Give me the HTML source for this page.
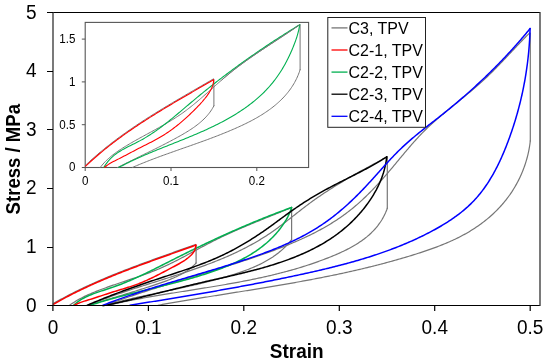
<!DOCTYPE html>
<html><head><meta charset="utf-8"><title>Stress-strain</title>
<style>html,body{margin:0;padding:0;background:#fff;}body{width:550px;height:364px;overflow:hidden;}svg{display:block;}</style>
</head><body>
<svg width="550" height="364" viewBox="0 0 550 364">
<rect width="550" height="364" fill="#fff"/>
<g id="main-curves"><path d="M69.59,305.25 L70.82,304.37 L72.07,303.52 L73.33,302.69 L74.60,301.89 L75.89,301.10 L77.18,300.34 L78.48,299.60 L79.79,298.88 L81.12,298.17 L82.45,297.49 L83.78,296.82 L85.13,296.16 L86.49,295.53 L87.85,294.90 L89.21,294.29 L90.59,293.69 L91.97,293.10 L93.35,292.53 L94.74,291.96 L96.14,291.40 L97.54,290.85 L98.94,290.31 L100.34,289.78 L101.75,289.25 L103.16,288.72 L104.58,288.21 L106.00,287.69 L107.42,287.19 L108.84,286.68 L110.26,286.18 L111.69,285.69 L113.11,285.19 L114.54,284.71 L115.97,284.22 L117.41,283.73 L118.84,283.25 L120.27,282.77 L121.71,282.29 L123.14,281.81 L124.58,281.33 L126.01,280.85 L127.45,280.37 L128.88,279.89 L130.32,279.41 L131.75,278.93 L133.19,278.44 L134.62,277.95 L136.05,277.46 L137.48,276.97 L138.91,276.47 L140.34,275.97 L141.76,275.47 L143.19,274.96 L144.61,274.44 L146.03,273.92 L147.45,273.40 L148.86,272.87 L150.27,272.33 L151.68,271.79 L153.09,271.24 L154.49,270.68 L155.89,270.11 L157.28,269.54 L158.68,268.95 L160.06,268.36 L161.45,267.76 L162.82,267.15 L164.20,266.53 L165.57,265.90 L166.94,265.26 L168.30,264.62 L169.66,263.97 L171.02,263.31 L172.37,262.64 L173.73,261.97 L175.08,261.29 L176.42,260.61 L177.77,259.92 L179.11,259.23 L180.45,258.53 L181.79,257.83 L183.12,257.13 L184.46,256.42 L185.79,255.71 L187.13,254.99 L188.46,254.28 L189.79,253.56 L191.12,252.84 L192.45,252.12 L193.78,251.40 L195.11,250.68 L196.44,249.96 L197.77,249.24 L199.10,248.52 L200.44,247.80 L201.77,247.09 L203.10,246.37 L204.44,245.66 L205.77,244.95 L207.11,244.25 L208.45,243.54 L209.79,242.85 L211.13,242.15 L212.48,241.46 L213.82,240.78 L215.17,240.10 L216.52,239.43 L217.88,238.76 L219.24,238.10 L220.60,237.44 L221.96,236.79 L223.32,236.14 L224.69,235.50 L226.06,234.86 L227.43,234.23 L228.80,233.60 L230.17,232.97 L231.55,232.35 L232.93,231.74 L234.31,231.12 L235.69,230.52 L237.07,229.91 L238.46,229.31 L239.84,228.71 L241.23,228.11 L242.62,227.52 L244.01,226.93 L245.40,226.34 L246.79,225.76 L248.19,225.18 L249.58,224.59 L250.98,224.02 L252.37,223.44 L253.77,222.87 L255.17,222.29 L256.56,221.72 L257.96,221.15 L259.36,220.58 L260.76,220.01 L262.16,219.45 L263.56,218.88 L264.97,218.31 L266.37,217.75 L267.77,217.18 L269.17,216.62 L270.57,216.05 L271.97,215.49 L273.37,214.93 L274.78,214.36 L276.18,213.79 L277.58,213.23 L278.98,212.66 L280.38,212.09 L281.78,211.52 L283.17,210.95 L284.57,210.38 L285.97,209.81 L287.37,209.23 L288.76,208.65 L290.16,208.07 L291.55,207.49" stroke="#767676" stroke-width="1.2" fill="none" stroke-linejoin="round" stroke-linecap="round"/><path d="M196.09,263.01 L195.05,264.11 L193.97,265.16 L192.87,266.18 L191.73,267.16 L190.57,268.11 L189.38,269.03 L188.17,269.91 L186.94,270.76 L185.68,271.59 L184.40,272.39 L183.11,273.16 L181.79,273.91 L180.46,274.63 L179.11,275.33 L177.75,276.01 L176.37,276.67 L174.98,277.31 L173.58,277.94 L172.17,278.54 L170.75,279.13 L169.32,279.71 L167.88,280.27 L166.43,280.82 L164.98,281.36 L163.52,281.89 L162.05,282.41 L160.59,282.92 L159.12,283.42 L157.65,283.92 L156.19,284.41 L154.72,284.90 L153.25,285.39 L151.78,285.87 L150.32,286.35 L148.85,286.83 L147.39,287.30 L145.92,287.77 L144.46,288.24 L142.99,288.71 L141.53,289.17 L140.07,289.63 L138.60,290.09 L137.14,290.54 L135.68,290.99 L134.22,291.45 L132.76,291.90 L131.29,292.34 L129.83,292.79 L128.37,293.24 L126.91,293.68 L125.45,294.12 L123.99,294.57 L122.53,295.01 L121.06,295.45 L119.60,295.89 L118.14,296.33 L116.68,296.77 L115.22,297.21 L113.76,297.65 L112.29,298.09 L110.83,298.53 L109.37,298.97 L107.90,299.41 L106.44,299.85 L104.98,300.29 L103.51,300.73 L102.05,301.18 L100.58,301.62 L99.12,302.07 L97.65,302.52 L96.18,302.97 L94.71,303.42 L93.25,303.88 L91.78,304.33 L90.31,304.79 L88.84,305.25" stroke="#767676" stroke-width="1.2" fill="none" stroke-linejoin="round" stroke-linecap="round"/><path d="M196.09,245.14 L196.09,263.01" stroke="#767676" stroke-width="1.2" fill="none" stroke-linejoin="round" stroke-linecap="round"/><path d="M53.15,303.66 L54.47,302.89 L55.81,302.13 L57.14,301.38 L58.48,300.63 L59.81,299.89 L61.16,299.15 L62.50,298.42 L63.85,297.69 L65.20,296.97 L66.55,296.25 L67.90,295.54 L69.26,294.84 L70.62,294.14 L71.98,293.44 L73.34,292.75 L74.71,292.07 L76.08,291.39 L77.45,290.71 L78.82,290.04 L80.20,289.37 L81.57,288.71 L82.95,288.05 L84.33,287.40 L85.72,286.75 L87.10,286.11 L88.49,285.47 L89.88,284.83 L91.27,284.20 L92.66,283.57 L94.06,282.95 L95.45,282.33 L96.85,281.71 L98.25,281.10 L99.65,280.49 L101.05,279.89 L102.46,279.29 L103.86,278.69 L105.27,278.09 L106.68,277.50 L108.09,276.91 L109.50,276.33 L110.92,275.75 L112.33,275.17 L113.75,274.59 L115.16,274.02 L116.58,273.45 L118.00,272.88 L119.42,272.32 L120.85,271.76 L122.27,271.20 L123.69,270.64 L125.12,270.09 L126.54,269.54 L127.97,268.99 L129.40,268.44 L130.83,267.89 L132.26,267.35 L133.69,266.81 L135.12,266.27 L136.56,265.73 L137.99,265.20 L139.42,264.66 L140.86,264.13 L142.29,263.60 L143.73,263.07 L145.17,262.54 L146.60,262.02 L148.04,261.49 L149.48,260.97 L150.92,260.44 L152.36,259.92 L153.80,259.40 L155.24,258.88 L156.68,258.36 L158.12,257.85 L159.56,257.33 L161.00,256.81 L162.44,256.30 L163.88,255.78 L165.32,255.27 L166.76,254.75 L168.21,254.24 L169.65,253.73 L171.09,253.21 L172.53,252.70 L173.97,252.18 L175.41,251.67 L176.85,251.16 L178.29,250.64 L179.73,250.13 L181.18,249.62 L182.62,249.10 L184.05,248.59 L185.49,248.07 L186.93,247.56 L188.37,247.04 L189.81,246.52 L191.25,246.00 L192.68,245.48 L194.12,244.96 L195.56,244.44" stroke="#767676" stroke-width="1.2" fill="none" stroke-linejoin="round" stroke-linecap="round"/><path d="M291.60,207.40 L291.60,239.60" stroke="#767676" stroke-width="1.2" fill="none" stroke-linejoin="round" stroke-linecap="round"/><path d="M291.61,239.60 L290.65,240.82 L289.68,242.00 L288.68,243.16 L287.67,244.29 L286.63,245.40 L285.58,246.49 L284.50,247.55 L283.41,248.58 L282.30,249.59 L281.18,250.58 L280.04,251.55 L278.88,252.50 L277.70,253.42 L276.51,254.32 L275.30,255.20 L274.08,256.06 L272.85,256.91 L271.60,257.73 L270.34,258.53 L269.06,259.32 L267.77,260.08 L266.47,260.83 L265.16,261.57 L263.84,262.28 L262.50,262.98 L261.16,263.67 L259.80,264.34 L258.44,264.99 L257.07,265.63 L255.68,266.25 L254.29,266.87 L252.89,267.47 L251.49,268.05 L250.08,268.63 L248.66,269.19 L247.23,269.74 L245.80,270.28 L244.36,270.81 L242.92,271.33 L241.48,271.84 L240.03,272.34 L238.57,272.84 L237.12,273.32 L235.66,273.80 L234.20,274.27 L232.73,274.73 L231.27,275.19 L229.80,275.64 L228.33,276.09 L226.87,276.53 L225.40,276.96 L223.93,277.39 L222.45,277.81 L220.98,278.23 L219.51,278.64 L218.03,279.05 L216.56,279.45 L215.08,279.85 L213.60,280.24 L212.13,280.63 L210.65,281.01 L209.17,281.39 L207.69,281.77 L206.20,282.14 L204.72,282.51 L203.24,282.87 L201.76,283.23 L200.27,283.59 L198.79,283.94 L197.30,284.30 L195.82,284.64 L194.33,284.99 L192.84,285.33 L191.35,285.67 L189.87,286.01 L188.38,286.34 L186.89,286.67 L185.40,287.00 L183.91,287.33 L182.42,287.66 L180.93,287.98 L179.44,288.30 L177.95,288.62 L176.46,288.94 L174.97,289.26 L173.48,289.58 L171.99,289.90 L170.50,290.21 L169.01,290.53 L167.52,290.84 L166.03,291.16 L164.54,291.47 L163.05,291.78 L161.56,292.10 L160.07,292.41 L158.58,292.72 L157.09,293.04 L155.60,293.35 L154.11,293.67 L152.62,293.98 L151.13,294.30 L149.64,294.62 L148.16,294.94 L146.67,295.26 L145.18,295.58 L143.69,295.90 L142.21,296.22 L140.72,296.55 L139.24,296.88 L137.75,297.21 L136.27,297.54 L134.79,297.88 L133.30,298.21 L131.82,298.55 L130.34,298.89 L128.86,299.24 L127.38,299.59 L125.90,299.94 L124.42,300.29 L122.95,300.65 L121.47,301.01 L120.00,301.38 L118.52,301.75 L117.05,302.12 L115.58,302.49 L114.11,302.87 L112.64,303.26 L111.17,303.65 L109.70,304.04 L108.23,304.44 L106.77,304.84 L105.30,305.25" stroke="#767676" stroke-width="1.2" fill="none" stroke-linejoin="round" stroke-linecap="round"/><path d="M88.50,305.25 L89.87,304.67 L91.25,304.10 L92.64,303.53 L94.02,302.96 L95.41,302.41 L96.80,301.85 L98.19,301.30 L99.58,300.76 L100.98,300.22 L102.38,299.68 L103.79,299.15 L105.19,298.62 L106.60,298.10 L108.01,297.58 L109.42,297.07 L110.83,296.55 L112.25,296.04 L113.67,295.54 L115.09,295.04 L116.51,294.54 L117.93,294.04 L119.36,293.55 L120.79,293.06 L122.21,292.57 L123.65,292.09 L125.08,291.61 L126.51,291.13 L127.95,290.65 L129.38,290.17 L130.82,289.70 L132.26,289.23 L133.70,288.76 L135.14,288.29 L136.58,287.83 L138.02,287.36 L139.47,286.90 L140.91,286.44 L142.35,285.97 L143.80,285.51 L145.25,285.06 L146.69,284.60 L148.14,284.14 L149.59,283.68 L151.04,283.23 L152.49,282.77 L153.94,282.31 L155.39,281.86 L156.83,281.40 L158.28,280.95 L159.73,280.49 L161.18,280.03 L162.63,279.58 L164.08,279.12 L165.53,278.66 L166.98,278.20 L168.43,277.74 L169.88,277.28 L171.32,276.82 L172.77,276.35 L174.22,275.89 L175.66,275.42 L177.11,274.95 L178.55,274.48 L179.99,274.01 L181.44,273.54 L182.88,273.06 L184.32,272.59 L185.76,272.11 L187.19,271.62 L188.63,271.14 L190.07,270.65 L191.50,270.16 L192.93,269.67 L194.37,269.17 L195.80,268.67 L197.22,268.17 L198.65,267.66 L200.08,267.16 L201.50,266.64 L202.92,266.13 L204.34,265.61 L205.76,265.08 L207.17,264.55 L208.58,264.02 L210.00,263.49 L211.40,262.95 L212.81,262.40 L214.22,261.85 L215.62,261.30 L217.02,260.74 L218.41,260.17 L219.81,259.60 L221.20,259.03 L222.59,258.45 L223.97,257.87 L225.36,257.28 L226.74,256.68 L228.12,256.08 L229.49,255.47 L230.86,254.86 L232.23,254.24 L233.60,253.61 L234.96,252.98 L236.32,252.34 L237.67,251.70 L239.02,251.05 L240.37,250.39 L241.71,249.73 L243.06,249.05 L244.39,248.38 L245.73,247.69 L247.06,247.00 L248.38,246.30 L249.70,245.59 L251.02,244.87 L252.33,244.15 L253.64,243.42 L254.95,242.68 L256.25,241.93 L257.55,241.17 L258.84,240.41 L260.13,239.64 L261.41,238.86 L262.69,238.07 L263.96,237.27 L265.23,236.46 L266.50,235.64 L267.76,234.82 L269.01,233.98 L270.26,233.14 L271.51,232.29 L272.75,231.43 L273.99,230.55 L275.22,229.68 L276.45,228.79 L277.67,227.90 L278.89,227.00 L280.11,226.09 L281.32,225.18 L282.54,224.27 L283.74,223.35 L284.95,222.42 L286.16,221.49 L287.36,220.56 L288.56,219.63 L289.76,218.69 L290.96,217.75 L292.16,216.81 L293.36,215.87 L294.56,214.93 L295.76,213.99 L296.96,213.05 L298.16,212.11 L299.36,211.18 L300.56,210.24 L301.76,209.31 L302.96,208.38 L304.17,207.45 L305.38,206.53 L306.59,205.61 L307.80,204.70 L309.01,203.79 L310.23,202.89 L311.45,201.99 L312.67,201.10 L313.90,200.21 L315.13,199.34 L316.37,198.47 L317.60,197.60 L318.84,196.74 L320.09,195.89 L321.33,195.04 L322.58,194.19 L323.83,193.36 L325.09,192.52 L326.35,191.70 L327.61,190.88 L328.87,190.06 L330.14,189.25 L331.41,188.44 L332.68,187.63 L333.95,186.84 L335.23,186.04 L336.51,185.25 L337.79,184.47 L339.07,183.68 L340.36,182.90 L341.65,182.13 L342.94,181.36 L344.23,180.59 L345.53,179.83 L346.83,179.07 L348.13,178.31 L349.43,177.56 L350.74,176.80 L352.04,176.06 L353.35,175.31 L354.66,174.57 L355.97,173.83 L357.29,173.09 L358.60,172.35 L359.92,171.62 L361.24,170.88 L362.56,170.15 L363.89,169.43 L365.21,168.70 L366.54,167.97 L367.87,167.25 L369.20,166.53 L370.53,165.81 L371.86,165.09 L373.19,164.37 L374.53,163.65 L375.87,162.93 L377.20,162.21 L378.54,161.50 L379.88,160.78 L381.22,160.06 L382.57,159.35 L383.91,158.63 L385.25,157.92 L386.60,157.20" stroke="#767676" stroke-width="1.2" fill="none" stroke-linejoin="round" stroke-linecap="round"/><path d="M387.30,156.80 L387.30,208.20" stroke="#767676" stroke-width="1.2" fill="none" stroke-linejoin="round" stroke-linecap="round"/><path d="M387.30,208.20 L386.76,209.71 L386.17,211.18 L385.56,212.63 L384.92,214.05 L384.24,215.44 L383.54,216.80 L382.81,218.14 L382.05,219.45 L381.26,220.73 L380.44,221.99 L379.60,223.22 L378.73,224.42 L377.84,225.60 L376.92,226.76 L375.98,227.90 L375.01,229.01 L374.02,230.09 L373.01,231.16 L371.97,232.20 L370.92,233.22 L369.84,234.22 L368.75,235.20 L367.63,236.16 L366.50,237.11 L365.34,238.03 L364.17,238.93 L362.98,239.81 L361.78,240.68 L360.56,241.53 L359.33,242.36 L358.08,243.17 L356.81,243.97 L355.54,244.76 L354.25,245.52 L352.94,246.28 L351.63,247.02 L350.31,247.74 L348.97,248.45 L347.63,249.15 L346.27,249.84 L344.91,250.51 L343.54,251.18 L342.16,251.83 L340.77,252.47 L339.38,253.10 L337.99,253.72 L336.58,254.33 L335.18,254.93 L333.77,255.52 L332.35,256.11 L330.94,256.69 L329.52,257.26 L328.10,257.82 L326.68,258.38 L325.25,258.93 L323.83,259.47 L322.40,260.01 L320.97,260.54 L319.55,261.06 L318.11,261.58 L316.68,262.09 L315.25,262.60 L313.81,263.09 L312.38,263.59 L310.94,264.07 L309.50,264.56 L308.06,265.03 L306.62,265.50 L305.17,265.96 L303.73,266.42 L302.28,266.87 L300.83,267.32 L299.38,267.76 L297.93,268.20 L296.48,268.63 L295.03,269.05 L293.58,269.47 L292.12,269.89 L290.66,270.30 L289.21,270.70 L287.75,271.10 L286.29,271.50 L284.83,271.89 L283.37,272.28 L281.90,272.66 L280.44,273.03 L278.97,273.41 L277.51,273.78 L276.04,274.14 L274.57,274.50 L273.10,274.86 L271.63,275.21 L270.16,275.55 L268.69,275.90 L267.22,276.24 L265.74,276.57 L264.27,276.91 L262.79,277.23 L261.32,277.56 L259.84,277.88 L258.36,278.20 L256.88,278.51 L255.40,278.82 L253.92,279.13 L252.44,279.44 L250.96,279.74 L249.48,280.04 L248.00,280.33 L246.51,280.63 L245.03,280.92 L243.54,281.21 L242.06,281.49 L240.57,281.77 L239.08,282.05 L237.60,282.33 L236.11,282.61 L234.62,282.88 L233.13,283.15 L231.64,283.42 L230.15,283.68 L228.66,283.95 L227.17,284.21 L225.68,284.47 L224.19,284.73 L222.70,284.99 L221.20,285.24 L219.71,285.50 L218.22,285.75 L216.72,286.00 L215.23,286.25 L213.74,286.50 L212.24,286.74 L210.75,286.99 L209.25,287.23 L207.76,287.48 L206.26,287.72 L204.77,287.96 L203.27,288.20 L201.78,288.44 L200.28,288.68 L198.78,288.92 L197.29,289.16 L195.79,289.40 L194.30,289.64 L192.80,289.87 L191.30,290.11 L189.81,290.35 L188.31,290.59 L186.81,290.82 L185.32,291.06 L183.82,291.30 L182.33,291.53 L180.83,291.77 L179.33,292.01 L177.84,292.25 L176.34,292.49 L174.85,292.73 L173.35,292.97 L171.86,293.21 L170.36,293.45 L168.87,293.69 L167.37,293.94 L165.88,294.18 L164.39,294.43 L162.89,294.67 L161.40,294.92 L159.91,295.17 L158.41,295.42 L156.92,295.67 L155.43,295.93 L153.94,296.18 L152.45,296.44 L150.96,296.70 L149.47,296.96 L147.98,297.22 L146.49,297.48 L145.00,297.75 L143.51,298.02 L142.02,298.29 L140.54,298.56 L139.05,298.83 L137.56,299.11 L136.08,299.39 L134.60,299.67 L133.11,299.95 L131.63,300.24 L130.15,300.53 L128.66,300.82 L127.18,301.12 L125.70,301.42 L124.22,301.72 L122.74,302.02 L121.27,302.33 L119.79,302.64 L118.31,302.95 L116.84,303.27 L115.36,303.59 L113.89,303.92 L112.41,304.24 L110.94,304.58 L109.47,304.91 L108.00,305.25" stroke="#767676" stroke-width="1.2" fill="none" stroke-linejoin="round" stroke-linecap="round"/><path d="M103.00,306.25 L104.41,305.71 L105.83,305.18 L107.25,304.65 L108.66,304.12 L110.08,303.59 L111.50,303.07 L112.92,302.55 L114.34,302.04 L115.75,301.53 L117.17,301.02 L118.60,300.51 L120.02,300.01 L121.44,299.51 L122.86,299.01 L124.28,298.51 L125.70,298.02 L127.13,297.53 L128.55,297.04 L129.98,296.55 L131.40,296.07 L132.83,295.59 L134.25,295.11 L135.68,294.63 L137.10,294.16 L138.53,293.68 L139.96,293.21 L141.38,292.74 L142.81,292.27 L144.24,291.81 L145.67,291.35 L147.10,290.88 L148.52,290.42 L149.95,289.96 L151.38,289.51 L152.81,289.05 L154.24,288.60 L155.67,288.15 L157.10,287.69 L158.54,287.24 L159.97,286.79 L161.40,286.35 L162.83,285.90 L164.26,285.46 L165.69,285.01 L167.13,284.57 L168.56,284.12 L169.99,283.68 L171.42,283.24 L172.86,282.80 L174.29,282.36 L175.72,281.92 L177.16,281.48 L178.59,281.05 L180.03,280.61 L181.46,280.17 L182.89,279.74 L184.33,279.30 L185.76,278.86 L187.20,278.43 L188.63,277.99 L190.07,277.56 L191.50,277.12 L192.94,276.69 L194.37,276.25 L195.81,275.82 L197.24,275.38 L198.68,274.94 L200.11,274.51 L201.55,274.07 L202.98,273.63 L204.42,273.20 L205.85,272.76 L207.29,272.32 L208.72,271.88 L210.16,271.44 L211.59,271.00 L213.03,270.56 L214.46,270.12 L215.90,269.67 L217.33,269.23 L218.77,268.78 L220.20,268.34 L221.64,267.89 L223.07,267.44 L224.51,266.99 L225.94,266.54 L227.38,266.09 L228.81,265.64 L230.24,265.18 L231.68,264.73 L233.11,264.27 L234.54,263.81 L235.98,263.35 L237.41,262.89 L238.84,262.42 L240.28,261.96 L241.71,261.49 L243.14,261.02 L244.57,260.55 L246.01,260.07 L247.44,259.60 L248.87,259.12 L250.30,258.64 L251.73,258.15 L253.16,257.67 L254.59,257.18 L256.02,256.69 L257.45,256.20 L258.88,255.71 L260.31,255.21 L261.74,254.71 L263.17,254.21 L264.59,253.70 L266.02,253.19 L267.45,252.68 L268.87,252.17 L270.30,251.65 L271.72,251.13 L273.14,250.60 L274.57,250.07 L275.99,249.54 L277.40,249.01 L278.82,248.47 L280.23,247.92 L281.65,247.37 L283.06,246.82 L284.47,246.26 L285.88,245.70 L287.28,245.14 L288.68,244.57 L290.08,243.99 L291.48,243.41 L292.88,242.82 L294.27,242.23 L295.66,241.64 L297.05,241.03 L298.43,240.43 L299.81,239.81 L301.19,239.20 L302.56,238.57 L303.93,237.94 L305.30,237.30 L306.66,236.66 L308.02,236.01 L309.38,235.36 L310.73,234.69 L312.08,234.02 L313.42,233.35 L314.76,232.67 L316.09,231.98 L317.42,231.28 L318.75,230.58 L320.07,229.87 L321.39,229.15 L322.70,228.42 L324.00,227.69 L325.31,226.95 L326.60,226.20 L327.89,225.44 L329.18,224.67 L330.46,223.90 L331.73,223.12 L333.00,222.33 L334.26,221.53 L335.52,220.72 L336.77,219.91 L338.01,219.08 L339.25,218.25 L340.49,217.40 L341.71,216.55 L342.93,215.69 L344.14,214.82 L345.35,213.93 L346.55,213.04 L347.74,212.14 L348.92,211.23 L350.10,210.31 L351.27,209.38 L352.43,208.44 L353.59,207.49 L354.74,206.53 L355.88,205.56 L357.02,204.59 L358.15,203.60 L359.27,202.61 L360.39,201.60 L361.50,200.59 L362.60,199.57 L363.70,198.54 L364.79,197.51 L365.87,196.47 L366.95,195.42 L368.03,194.36 L369.10,193.30 L370.16,192.23 L371.22,191.16 L372.27,190.07 L373.32,188.99 L374.36,187.89 L375.40,186.80 L376.43,185.69 L377.46,184.59 L378.48,183.47 L379.50,182.36 L380.51,181.23 L381.52,180.11 L382.53,178.98 L383.53,177.84 L384.53,176.71 L385.52,175.57 L386.51,174.42 L387.50,173.28 L388.48,172.13 L389.46,170.98 L390.43,169.82 L391.41,168.67 L392.38,167.51 L393.34,166.36 L394.31,165.20 L395.28,164.04 L396.24,162.88 L397.20,161.72 L398.16,160.56 L399.13,159.40 L400.09,158.24 L401.05,157.08 L402.01,155.92 L402.97,154.77 L403.94,153.61 L404.90,152.46 L405.87,151.31 L406.84,150.16 L407.82,149.02 L408.79,147.88 L409.77,146.74 L410.75,145.60 L411.74,144.47 L412.72,143.35 L413.72,142.22 L414.72,141.11 L415.72,139.99 L416.73,138.89 L417.74,137.78 L418.76,136.69 L419.79,135.60 L420.82,134.51 L421.86,133.44 L422.90,132.37 L423.96,131.30 L425.02,130.25 L426.09,129.20 L427.16,128.16 L428.25,127.12 L429.34,126.10 L430.43,125.07 L431.53,124.06 L432.64,123.05 L433.76,122.04 L434.88,121.04 L436.00,120.05 L437.13,119.06 L438.27,118.08 L439.40,117.09 L440.55,116.12 L441.69,115.14 L442.84,114.17 L444.00,113.21 L445.16,112.24 L446.32,111.28 L447.48,110.32 L448.64,109.36 L449.81,108.41 L450.98,107.45 L452.15,106.50 L453.32,105.55 L454.49,104.60 L455.66,103.65 L456.84,102.70 L458.01,101.75 L459.18,100.80 L460.36,99.85 L461.53,98.90 L462.70,97.95 L463.87,96.99 L465.04,96.04 L466.21,95.08 L467.37,94.12 L468.54,93.16 L469.70,92.20 L470.85,91.23 L472.01,90.26 L473.16,89.29 L474.31,88.31 L475.45,87.33 L476.60,86.35 L477.73,85.36 L478.86,84.37 L479.99,83.37 L481.11,82.36 L482.23,81.36 L483.34,80.34 L484.44,79.32 L485.54,78.29 L486.64,77.26 L487.73,76.22 L488.81,75.18 L489.89,74.13 L490.96,73.08 L492.03,72.03 L493.10,70.97 L494.16,69.90 L495.22,68.83 L496.27,67.76 L497.32,66.69 L498.37,65.61 L499.41,64.53 L500.46,63.44 L501.50,62.36 L502.54,61.27 L503.57,60.18 L504.61,59.09 L505.64,57.99 L506.68,56.90 L507.71,55.80 L508.74,54.71 L509.77,53.61 L510.80,52.52 L511.83,51.42 L512.86,50.32 L513.89,49.23 L514.93,48.13 L515.96,47.04 L517.00,45.94 L518.03,44.85 L519.07,43.76 L520.11,42.67 L521.15,41.59 L522.20,40.50 L523.25,39.42 L524.30,38.34 L525.35,37.27 L526.41,36.19 L527.47,35.13 L528.53,34.06 L529.60,33.00" stroke="#767676" stroke-width="1.2" fill="none" stroke-linejoin="round" stroke-linecap="round"/><path d="M530.30,33.00 L530.30,140.90" stroke="#767676" stroke-width="1.2" fill="none" stroke-linejoin="round" stroke-linecap="round"/><path d="M530.30,140.90 L530.12,142.43 L529.91,143.96 L529.69,145.49 L529.45,147.01 L529.18,148.53 L528.90,150.04 L528.60,151.54 L528.27,153.04 L527.93,154.53 L527.57,156.02 L527.19,157.50 L526.79,158.97 L526.37,160.43 L525.93,161.89 L525.47,163.34 L525.00,164.78 L524.50,166.22 L523.99,167.65 L523.46,169.07 L522.91,170.48 L522.35,171.88 L521.76,173.28 L521.16,174.67 L520.54,176.04 L519.91,177.41 L519.26,178.77 L518.59,180.12 L517.90,181.46 L517.20,182.79 L516.48,184.11 L515.74,185.42 L514.99,186.72 L514.22,188.01 L513.43,189.29 L512.63,190.56 L511.82,191.82 L510.98,193.06 L510.14,194.30 L509.27,195.52 L508.40,196.73 L507.50,197.93 L506.60,199.12 L505.67,200.30 L504.74,201.46 L503.79,202.61 L502.82,203.75 L501.84,204.88 L500.85,205.99 L499.84,207.09 L498.83,208.18 L497.79,209.26 L496.75,210.33 L495.69,211.38 L494.62,212.42 L493.54,213.45 L492.44,214.46 L491.34,215.46 L490.22,216.46 L489.09,217.43 L487.95,218.40 L486.80,219.35 L485.64,220.29 L484.47,221.22 L483.29,222.14 L482.09,223.04 L480.89,223.93 L479.68,224.81 L478.46,225.68 L477.23,226.53 L475.99,227.37 L474.74,228.20 L473.49,229.02 L472.22,229.82 L470.95,230.61 L469.67,231.39 L468.38,232.15 L467.08,232.91 L465.78,233.65 L464.47,234.38 L463.15,235.09 L461.83,235.80 L460.50,236.50 L459.16,237.18 L457.82,237.85 L456.47,238.52 L455.11,239.17 L453.75,239.81 L452.38,240.44 L451.01,241.07 L449.63,241.68 L448.25,242.29 L446.86,242.88 L445.47,243.47 L444.07,244.05 L442.67,244.62 L441.27,245.18 L439.86,245.74 L438.44,246.28 L437.03,246.82 L435.61,247.36 L434.18,247.88 L432.76,248.40 L431.33,248.92 L429.90,249.42 L428.46,249.93 L427.03,250.42 L425.59,250.91 L424.15,251.40 L422.70,251.88 L421.26,252.35 L419.81,252.82 L418.37,253.29 L416.92,253.75 L415.47,254.21 L414.02,254.66 L412.57,255.12 L411.12,255.56 L409.66,256.01 L408.21,256.45 L406.76,256.89 L405.30,257.32 L403.85,257.75 L402.39,258.18 L400.94,258.61 L399.48,259.03 L398.03,259.45 L396.57,259.86 L395.11,260.27 L393.65,260.68 L392.20,261.09 L390.74,261.49 L389.28,261.89 L387.82,262.29 L386.36,262.69 L384.89,263.08 L383.43,263.47 L381.97,263.85 L380.51,264.23 L379.04,264.62 L377.58,264.99 L376.12,265.37 L374.65,265.74 L373.19,266.11 L371.72,266.47 L370.25,266.84 L368.79,267.20 L367.32,267.56 L365.85,267.92 L364.38,268.27 L362.92,268.62 L361.45,268.97 L359.98,269.32 L358.51,269.66 L357.04,270.00 L355.57,270.34 L354.10,270.68 L352.62,271.01 L351.15,271.34 L349.68,271.67 L348.21,272.00 L346.73,272.33 L345.26,272.65 L343.79,272.97 L342.31,273.29 L340.84,273.61 L339.36,273.92 L337.89,274.23 L336.41,274.55 L334.93,274.85 L333.46,275.16 L331.98,275.47 L330.50,275.77 L329.03,276.07 L327.55,276.37 L326.07,276.67 L324.59,276.96 L323.11,277.26 L321.63,277.55 L320.15,277.84 L318.67,278.13 L317.19,278.42 L315.71,278.70 L314.23,278.99 L312.75,279.27 L311.27,279.55 L309.79,279.83 L308.31,280.11 L306.82,280.38 L305.34,280.66 L303.86,280.93 L302.38,281.20 L300.89,281.47 L299.41,281.74 L297.93,282.01 L296.44,282.28 L294.96,282.54 L293.47,282.81 L291.99,283.07 L290.50,283.33 L289.02,283.59 L287.53,283.85 L286.05,284.11 L284.56,284.37 L283.08,284.63 L281.59,284.88 L280.10,285.14 L278.62,285.39 L277.13,285.64 L275.64,285.89 L274.16,286.14 L272.67,286.39 L271.18,286.64 L269.69,286.89 L268.21,287.14 L266.72,287.39 L265.23,287.63 L263.74,287.88 L262.25,288.12 L260.77,288.37 L259.28,288.61 L257.79,288.85 L256.30,289.10 L254.81,289.34 L253.32,289.58 L251.83,289.82 L250.34,290.06 L248.85,290.30 L247.36,290.54 L245.88,290.78 L244.39,291.02 L242.90,291.26 L241.41,291.50 L239.92,291.74 L238.43,291.97 L236.94,292.21 L235.45,292.45 L233.96,292.69 L232.47,292.92 L230.98,293.16 L229.49,293.40 L228.00,293.64 L226.51,293.87 L225.02,294.11 L223.52,294.35 L222.03,294.59 L220.54,294.82 L219.05,295.06 L217.56,295.30 L216.07,295.54 L214.58,295.78 L213.09,296.01 L211.60,296.25 L210.11,296.49 L208.62,296.73 L207.13,296.97 L205.64,297.21 L204.15,297.45 L202.66,297.69 L201.17,297.93 L199.68,298.17 L198.19,298.42 L196.70,298.66 L195.21,298.90 L193.72,299.15 L192.23,299.39 L190.74,299.64 L189.25,299.88 L187.76,300.13 L186.27,300.38 L184.78,300.62 L183.30,300.87 L181.81,301.12 L180.32,301.37 L178.83,301.63 L177.34,301.88 L175.85,302.13 L174.36,302.38 L172.87,302.64 L171.39,302.90 L169.90,303.15 L168.41,303.41 L166.92,303.67 L165.44,303.93 L163.95,304.19 L162.46,304.46 L160.97,304.72 L159.49,304.98 L158.00,305.25" stroke="#767676" stroke-width="1.2" fill="none" stroke-linejoin="round" stroke-linecap="round"/><path d="M73.59,305.25 L74.75,304.21 L75.93,303.23 L77.13,302.29 L78.36,301.39 L79.61,300.54 L80.88,299.73 L82.17,298.96 L83.47,298.23 L84.80,297.53 L86.14,296.86 L87.49,296.21 L88.86,295.60 L90.24,295.01 L91.64,294.44 L93.04,293.89 L94.45,293.36 L95.87,292.84 L97.30,292.34 L98.73,291.85 L100.17,291.36 L101.61,290.89 L103.06,290.42 L104.50,289.95 L105.95,289.48 L107.40,289.02 L108.84,288.54 L110.29,288.07 L111.73,287.58 L113.16,287.09 L114.60,286.58 L116.02,286.07 L117.45,285.55 L118.87,285.02 L120.28,284.48 L121.70,283.93 L123.10,283.37 L124.51,282.81 L125.91,282.23 L127.31,281.65 L128.70,281.07 L130.09,280.47 L131.48,279.87 L132.87,279.27 L134.25,278.65 L135.63,278.03 L137.01,277.41 L138.39,276.78 L139.76,276.14 L141.13,275.50 L142.50,274.86 L143.87,274.21 L145.23,273.55 L146.60,272.90 L147.96,272.23 L149.32,271.57 L150.68,270.90 L152.04,270.23 L153.40,269.56 L154.75,268.88 L156.11,268.20 L157.46,267.52 L158.81,266.84 L160.17,266.16 L161.52,265.48 L162.87,264.79 L164.22,264.10 L165.57,263.42 L166.92,262.73 L168.27,262.05 L169.63,261.36 L170.98,260.67 L172.33,259.99 L173.68,259.31 L175.04,258.62 L176.39,257.94 L177.75,257.26 L179.10,256.59 L180.46,255.91 L181.81,255.23 L183.17,254.56 L184.53,253.88 L185.89,253.21 L187.24,252.54 L188.60,251.87 L189.96,251.20 L191.32,250.54 L192.69,249.87 L194.05,249.21 L195.41,248.55 L196.77,247.89 L198.14,247.23 L199.50,246.57 L200.87,245.91 L202.24,245.26 L203.60,244.60 L204.97,243.95 L206.34,243.30 L207.71,242.66 L209.08,242.01 L210.45,241.36 L211.82,240.72 L213.19,240.08 L214.57,239.44 L215.94,238.80 L217.32,238.17 L218.69,237.53 L220.07,236.90 L221.44,236.27 L222.82,235.64 L224.20,235.01 L225.58,234.39 L226.96,233.77 L228.34,233.14 L229.73,232.52 L231.11,231.91 L232.49,231.29 L233.88,230.68 L235.27,230.07 L236.65,229.46 L238.04,228.85 L239.43,228.25 L240.82,227.64 L242.21,227.04 L243.60,226.44 L245.00,225.85 L246.39,225.25 L247.78,224.66 L249.18,224.07 L250.58,223.48 L251.97,222.90 L253.37,222.31 L254.77,221.73 L256.17,221.15 L257.57,220.58 L258.98,220.00 L260.38,219.43 L261.79,218.86 L263.19,218.30 L264.60,217.73 L266.01,217.17 L267.42,216.61 L268.83,216.05 L270.24,215.50 L271.65,214.95 L273.07,214.40 L274.48,213.85 L275.90,213.31 L277.31,212.76 L278.73,212.22 L280.15,211.69 L281.57,211.15 L282.99,210.62 L284.42,210.09 L285.84,209.57 L287.27,209.05 L288.69,208.53 L290.12,208.01 L291.55,207.49" stroke="#00b050" stroke-width="1.5" fill="none" stroke-linejoin="round" stroke-linecap="round"/><path d="M291.55,207.49 L291.12,208.90 L290.65,210.28 L290.13,211.66 L289.58,213.02 L288.98,214.36 L288.35,215.70 L287.69,217.02 L286.99,218.32 L286.26,219.62 L285.50,220.90 L284.71,222.17 L283.90,223.43 L283.06,224.68 L282.20,225.91 L281.32,227.13 L280.41,228.34 L279.48,229.54 L278.53,230.72 L277.55,231.88 L276.56,233.04 L275.55,234.17 L274.51,235.30 L273.46,236.40 L272.40,237.50 L271.31,238.57 L270.21,239.63 L269.09,240.68 L267.96,241.70 L266.82,242.72 L265.66,243.71 L264.49,244.69 L263.31,245.65 L262.11,246.59 L260.91,247.51 L259.69,248.42 L258.47,249.31 L257.24,250.18 L255.99,251.03 L254.74,251.87 L253.48,252.69 L252.20,253.50 L250.92,254.29 L249.63,255.07 L248.34,255.83 L247.03,256.58 L245.72,257.31 L244.40,258.03 L243.07,258.74 L241.74,259.43 L240.40,260.11 L239.05,260.78 L237.70,261.44 L236.34,262.08 L234.97,262.72 L233.60,263.34 L232.22,263.95 L230.84,264.55 L229.46,265.14 L228.06,265.73 L226.67,266.30 L225.27,266.86 L223.87,267.42 L222.46,267.96 L221.05,268.50 L219.64,269.03 L218.22,269.55 L216.80,270.07 L215.38,270.57 L213.96,271.08 L212.53,271.57 L211.10,272.06 L209.67,272.55 L208.24,273.02 L206.81,273.50 L205.38,273.96 L203.94,274.42 L202.50,274.88 L201.06,275.33 L199.62,275.78 L198.18,276.22 L196.73,276.66 L195.29,277.09 L193.84,277.52 L192.39,277.94 L190.94,278.36 L189.49,278.78 L188.04,279.19 L186.59,279.60 L185.13,280.00 L183.68,280.40 L182.22,280.80 L180.76,281.19 L179.31,281.59 L177.85,281.98 L176.39,282.36 L174.93,282.74 L173.46,283.13 L172.00,283.50 L170.54,283.88 L169.07,284.26 L167.61,284.63 L166.14,285.00 L164.68,285.37 L163.21,285.74 L161.75,286.10 L160.28,286.47 L158.81,286.83 L157.35,287.19 L155.88,287.56 L154.41,287.92 L152.94,288.28 L151.47,288.64 L150.00,289.00 L148.54,289.36 L147.07,289.72 L145.60,290.08 L144.13,290.44 L142.66,290.80 L141.20,291.16 L139.73,291.53 L138.26,291.89 L136.79,292.25 L135.33,292.62 L133.86,292.99 L132.40,293.35 L130.93,293.72 L129.47,294.09 L128.00,294.47 L126.54,294.84 L125.08,295.22 L123.61,295.60 L122.15,295.98 L120.69,296.36 L119.23,296.75 L117.77,297.14 L116.32,297.53 L114.86,297.93 L113.40,298.33 L111.95,298.73 L110.49,299.13 L109.04,299.54 L107.59,299.96 L106.14,300.37 L104.69,300.79 L103.24,301.22 L101.80,301.65 L100.35,302.08 L98.91,302.52 L97.47,302.96 L96.03,303.41 L94.59,303.86 L93.15,304.32 L91.72,304.78 L90.28,305.25" stroke="#00b050" stroke-width="1.5" fill="none" stroke-linejoin="round" stroke-linecap="round"/><path d="M53.35,304.36 L54.67,303.59 L56.01,302.83 L57.34,302.08 L58.68,301.33 L60.01,300.59 L61.36,299.85 L62.70,299.12 L64.05,298.39 L65.40,297.67 L66.75,296.95 L68.10,296.24 L69.46,295.54 L70.82,294.84 L72.18,294.14 L73.54,293.45 L74.91,292.77 L76.28,292.09 L77.65,291.41 L79.02,290.74 L80.40,290.07 L81.77,289.41 L83.15,288.75 L84.53,288.10 L85.92,287.45 L87.30,286.81 L88.69,286.17 L90.08,285.53 L91.47,284.90 L92.86,284.27 L94.26,283.65 L95.65,283.03 L97.05,282.41 L98.45,281.80 L99.85,281.19 L101.25,280.59 L102.66,279.99 L104.06,279.39 L105.47,278.79 L106.88,278.20 L108.29,277.61 L109.70,277.03 L111.12,276.45 L112.53,275.87 L113.95,275.29 L115.36,274.72 L116.78,274.15 L118.20,273.58 L119.62,273.02 L121.05,272.46 L122.47,271.90 L123.89,271.34 L125.32,270.79 L126.74,270.24 L128.17,269.69 L129.60,269.14 L131.03,268.59 L132.46,268.05 L133.89,267.51 L135.32,266.97 L136.76,266.43 L138.19,265.90 L139.62,265.36 L141.06,264.83 L142.49,264.30 L143.93,263.77 L145.37,263.24 L146.80,262.72 L148.24,262.19 L149.68,261.67 L151.12,261.14 L152.56,260.62 L154.00,260.10 L155.44,259.58 L156.88,259.06 L158.32,258.55 L159.76,258.03 L161.20,257.51 L162.64,257.00 L164.08,256.48 L165.52,255.97 L166.96,255.45 L168.41,254.94 L169.85,254.43 L171.29,253.91 L172.73,253.40 L174.17,252.88 L175.61,252.37 L177.05,251.86 L178.49,251.34 L179.93,250.83 L181.38,250.32 L182.82,249.80 L184.25,249.29 L185.69,248.77 L187.13,248.26 L188.57,247.74 L190.01,247.22 L191.45,246.70 L192.88,246.18 L194.32,245.66 L195.76,245.14" stroke="#ff0000" stroke-width="1.5" fill="none" stroke-linejoin="round" stroke-linecap="round"/><path d="M195.80,244.90 L195.69,246.52 L195.40,248.04 L194.93,249.48 L194.32,250.82 L193.58,252.10 L192.72,253.30 L191.76,254.44 L190.72,255.52 L189.62,256.54 L188.46,257.53 L187.27,258.47 L186.05,259.38 L184.80,260.26 L183.51,261.11 L182.21,261.93 L180.88,262.73 L179.54,263.50 L178.18,264.26 L176.82,265.01 L175.44,265.75 L174.07,266.48 L172.69,267.20 L171.32,267.93 L169.95,268.65 L168.58,269.37 L167.22,270.09 L165.85,270.81 L164.49,271.53 L163.14,272.24 L161.78,272.95 L160.42,273.65 L159.06,274.35 L157.70,275.04 L156.35,275.73 L154.98,276.41 L153.62,277.08 L152.26,277.75 L150.89,278.40 L149.52,279.05 L148.14,279.69 L146.76,280.31 L145.37,280.93 L143.98,281.54 L142.58,282.13 L141.18,282.71 L139.77,283.28 L138.35,283.83 L136.92,284.37 L135.49,284.89 L134.05,285.40 L132.60,285.90 L131.14,286.38 L129.68,286.86 L128.21,287.33 L126.74,287.79 L125.26,288.24 L123.79,288.69 L122.31,289.13 L120.83,289.58 L119.35,290.02 L117.87,290.46 L116.40,290.91 L114.93,291.36 L113.46,291.81 L111.99,292.28 L110.53,292.74 L109.07,293.21 L107.62,293.69 L106.17,294.17 L104.71,294.64 L103.26,295.13 L101.82,295.61 L100.37,296.09 L98.92,296.57 L97.47,297.04 L96.02,297.52 L94.57,297.99 L93.12,298.45 L91.66,298.91 L90.20,299.37 L88.74,299.82 L87.28,300.26 L85.81,300.69 L84.35,301.14 L82.89,301.60 L81.44,302.09 L80.01,302.62 L78.59,303.19 L77.20,303.81 L75.83,304.49 L74.48,305.25" stroke="#ff0000" stroke-width="1.5" fill="none" stroke-linejoin="round" stroke-linecap="round"/><path d="M87.30,305.25 L88.68,304.65 L90.07,304.06 L91.46,303.47 L92.84,302.88 L94.23,302.30 L95.62,301.72 L97.01,301.15 L98.41,300.57 L99.80,300.01 L101.19,299.44 L102.59,298.88 L103.98,298.32 L105.38,297.76 L106.78,297.21 L108.18,296.66 L109.58,296.11 L110.98,295.57 L112.39,295.03 L113.79,294.49 L115.20,293.95 L116.60,293.42 L118.01,292.89 L119.42,292.36 L120.83,291.83 L122.24,291.31 L123.65,290.79 L125.06,290.27 L126.47,289.76 L127.89,289.25 L129.30,288.73 L130.72,288.23 L132.13,287.72 L133.55,287.21 L134.97,286.71 L136.39,286.21 L137.81,285.71 L139.24,285.22 L140.66,284.72 L142.08,284.23 L143.51,283.74 L144.93,283.25 L146.36,282.76 L147.79,282.28 L149.22,281.79 L150.64,281.31 L152.08,280.83 L153.51,280.35 L154.94,279.87 L156.37,279.39 L157.81,278.92 L159.24,278.44 L160.68,277.97 L162.11,277.50 L163.55,277.03 L164.99,276.56 L166.43,276.09 L167.87,275.62 L169.30,275.15 L170.74,274.67 L172.18,274.20 L173.62,273.73 L175.06,273.26 L176.50,272.78 L177.94,272.31 L179.37,271.83 L180.81,271.35 L182.24,270.87 L183.68,270.39 L185.11,269.90 L186.54,269.41 L187.97,268.92 L189.40,268.43 L190.83,267.93 L192.26,267.43 L193.68,266.92 L195.10,266.41 L196.52,265.89 L197.94,265.38 L199.36,264.85 L200.77,264.32 L202.18,263.79 L203.59,263.25 L205.00,262.70 L206.40,262.15 L207.80,261.59 L209.19,261.03 L210.59,260.46 L211.98,259.88 L213.36,259.30 L214.74,258.71 L216.12,258.11 L217.50,257.50 L218.87,256.88 L220.24,256.26 L221.60,255.63 L222.96,254.99 L224.31,254.34 L225.66,253.69 L227.01,253.02 L228.35,252.35 L229.69,251.67 L231.02,250.98 L232.35,250.29 L233.67,249.58 L235.00,248.87 L236.31,248.15 L237.63,247.43 L238.94,246.70 L240.24,245.96 L241.55,245.21 L242.85,244.46 L244.14,243.70 L245.43,242.93 L246.72,242.15 L248.00,241.37 L249.28,240.59 L250.56,239.79 L251.83,238.99 L253.10,238.19 L254.37,237.37 L255.63,236.56 L256.89,235.73 L258.14,234.90 L259.39,234.06 L260.64,233.22 L261.89,232.37 L263.13,231.52 L264.36,230.66 L265.60,229.80 L266.83,228.93 L268.06,228.06 L269.28,227.18 L270.51,226.30 L271.73,225.41 L272.95,224.52 L274.17,223.63 L275.38,222.74 L276.60,221.85 L277.82,220.95 L279.03,220.06 L280.25,219.17 L281.46,218.27 L282.68,217.38 L283.89,216.49 L285.11,215.60 L286.33,214.71 L287.55,213.83 L288.78,212.95 L290.00,212.07 L291.23,211.19 L292.46,210.33 L293.69,209.46 L294.93,208.60 L296.17,207.75 L297.41,206.90 L298.66,206.06 L299.91,205.22 L301.16,204.39 L302.41,203.56 L303.67,202.74 L304.93,201.92 L306.20,201.11 L307.47,200.31 L308.74,199.51 L310.02,198.72 L311.30,197.93 L312.59,197.15 L313.87,196.38 L315.17,195.61 L316.46,194.85 L317.76,194.09 L319.07,193.34 L320.37,192.60 L321.69,191.87 L323.00,191.14 L324.32,190.41 L325.64,189.69 L326.97,188.98 L328.30,188.27 L329.63,187.56 L330.96,186.86 L332.30,186.16 L333.64,185.47 L334.98,184.78 L336.32,184.09 L337.66,183.40 L339.00,182.72 L340.35,182.03 L341.70,181.35 L343.04,180.67 L344.39,179.99 L345.74,179.31 L347.09,178.63 L348.44,177.95 L349.79,177.27 L351.13,176.59 L352.48,175.91 L353.83,175.23 L355.17,174.54 L356.52,173.86 L357.86,173.17 L359.20,172.48 L360.54,171.78 L361.88,171.09 L363.22,170.38 L364.55,169.68 L365.88,168.97 L367.21,168.25 L368.54,167.54 L369.86,166.81 L371.18,166.08 L372.50,165.35 L373.81,164.61 L375.12,163.86 L376.42,163.11 L377.72,162.34 L379.02,161.58 L380.31,160.80 L381.60,160.02 L382.88,159.23 L384.16,158.43 L385.43,157.62 L386.70,156.80" stroke="#000000" stroke-width="1.5" fill="none" stroke-linejoin="round" stroke-linecap="round"/><path d="M386.70,156.80 L386.54,158.30 L386.34,159.80 L386.12,161.29 L385.87,162.78 L385.60,164.25 L385.29,165.72 L384.96,167.19 L384.61,168.64 L384.23,170.09 L383.82,171.53 L383.39,172.97 L382.93,174.39 L382.45,175.81 L381.95,177.22 L381.42,178.62 L380.87,180.02 L380.30,181.40 L379.71,182.78 L379.09,184.15 L378.46,185.51 L377.80,186.86 L377.12,188.20 L376.43,189.54 L375.71,190.86 L374.98,192.18 L374.23,193.49 L373.46,194.78 L372.67,196.07 L371.87,197.35 L371.05,198.62 L370.22,199.88 L369.36,201.13 L368.50,202.37 L367.62,203.60 L366.72,204.82 L365.81,206.03 L364.89,207.23 L363.95,208.42 L363.00,209.60 L362.04,210.77 L361.06,211.93 L360.08,213.07 L359.08,214.21 L358.06,215.34 L357.04,216.45 L356.00,217.55 L354.95,218.64 L353.89,219.72 L352.82,220.79 L351.74,221.85 L350.64,222.90 L349.54,223.93 L348.42,224.95 L347.30,225.96 L346.16,226.96 L345.01,227.94 L343.86,228.92 L342.69,229.88 L341.52,230.83 L340.33,231.76 L339.14,232.68 L337.94,233.59 L336.73,234.49 L335.51,235.38 L334.28,236.25 L333.04,237.10 L331.80,237.95 L330.54,238.78 L329.28,239.60 L328.02,240.41 L326.74,241.21 L325.46,242.00 L324.17,242.77 L322.88,243.53 L321.58,244.28 L320.27,245.02 L318.96,245.75 L317.64,246.47 L316.32,247.18 L314.99,247.87 L313.65,248.56 L312.31,249.24 L310.97,249.90 L309.62,250.56 L308.27,251.21 L306.91,251.84 L305.55,252.47 L304.18,253.09 L302.81,253.70 L301.44,254.30 L300.06,254.89 L298.68,255.48 L297.30,256.05 L295.91,256.62 L294.52,257.18 L293.12,257.73 L291.73,258.27 L290.32,258.80 L288.92,259.33 L287.51,259.85 L286.10,260.36 L284.68,260.87 L283.27,261.37 L281.84,261.86 L280.42,262.34 L278.99,262.82 L277.57,263.29 L276.13,263.76 L274.70,264.22 L273.26,264.67 L271.82,265.12 L270.38,265.56 L268.94,266.00 L267.49,266.43 L266.04,266.85 L264.59,267.27 L263.14,267.69 L261.69,268.10 L260.23,268.51 L258.77,268.91 L257.31,269.30 L255.85,269.70 L254.39,270.09 L252.92,270.47 L251.46,270.85 L249.99,271.23 L248.52,271.60 L247.05,271.98 L245.58,272.34 L244.11,272.71 L242.63,273.07 L241.16,273.43 L239.69,273.78 L238.21,274.14 L236.73,274.49 L235.26,274.84 L233.78,275.19 L232.30,275.53 L230.82,275.88 L229.34,276.22 L227.86,276.56 L226.38,276.90 L224.91,277.24 L223.43,277.58 L221.95,277.91 L220.47,278.25 L218.99,278.58 L217.51,278.92 L216.03,279.25 L214.55,279.59 L213.07,279.92 L211.59,280.26 L210.12,280.59 L208.64,280.93 L207.16,281.27 L205.69,281.60 L204.21,281.94 L202.74,282.28 L201.27,282.62 L199.80,282.96 L198.33,283.30 L196.86,283.65 L195.39,284.00 L193.92,284.34 L192.46,284.69 L190.99,285.04 L189.53,285.39 L188.06,285.74 L186.60,286.10 L185.14,286.45 L183.68,286.81 L182.22,287.16 L180.76,287.52 L179.30,287.88 L177.84,288.23 L176.38,288.59 L174.92,288.95 L173.46,289.31 L172.01,289.67 L170.55,290.03 L169.09,290.39 L167.63,290.75 L166.18,291.11 L164.72,291.47 L163.26,291.83 L161.81,292.20 L160.35,292.56 L158.89,292.92 L157.44,293.28 L155.98,293.64 L154.52,294.00 L153.07,294.36 L151.61,294.71 L150.15,295.07 L148.69,295.43 L147.23,295.79 L145.77,296.14 L144.31,296.50 L142.85,296.85 L141.39,297.21 L139.93,297.56 L138.46,297.91 L137.00,298.26 L135.53,298.61 L134.07,298.96 L132.60,299.30 L131.14,299.65 L129.67,299.99 L128.20,300.34 L126.73,300.68 L125.26,301.02 L123.78,301.35 L122.31,301.69 L120.83,302.02 L119.36,302.36 L117.88,302.69 L116.40,303.01 L114.92,303.34 L113.44,303.66 L111.95,303.99 L110.47,304.31 L108.98,304.62 L107.49,304.94 L106.00,305.25" stroke="#000000" stroke-width="1.5" fill="none" stroke-linejoin="round" stroke-linecap="round"/><path d="M103.00,305.25 L104.41,304.70 L105.81,304.15 L107.22,303.60 L108.63,303.06 L110.04,302.53 L111.45,301.99 L112.86,301.46 L114.27,300.94 L115.69,300.42 L117.10,299.90 L118.52,299.39 L119.93,298.87 L121.35,298.37 L122.77,297.86 L124.19,297.36 L125.61,296.87 L127.03,296.37 L128.45,295.88 L129.87,295.39 L131.29,294.91 L132.72,294.42 L134.14,293.94 L135.56,293.47 L136.99,292.99 L138.42,292.52 L139.84,292.05 L141.27,291.58 L142.70,291.12 L144.13,290.66 L145.56,290.20 L146.99,289.74 L148.42,289.28 L149.85,288.83 L151.28,288.38 L152.71,287.93 L154.14,287.48 L155.58,287.03 L157.01,286.59 L158.44,286.14 L159.88,285.70 L161.31,285.26 L162.75,284.82 L164.18,284.38 L165.62,283.95 L167.06,283.51 L168.49,283.08 L169.93,282.65 L171.37,282.21 L172.81,281.78 L174.25,281.35 L175.68,280.92 L177.12,280.49 L178.56,280.07 L180.00,279.64 L181.44,279.21 L182.88,278.78 L184.32,278.36 L185.76,277.93 L187.20,277.50 L188.64,277.08 L190.08,276.65 L191.53,276.23 L192.97,275.80 L194.41,275.37 L195.85,274.95 L197.29,274.52 L198.73,274.09 L200.17,273.67 L201.62,273.24 L203.06,272.81 L204.50,272.38 L205.94,271.95 L207.38,271.52 L208.82,271.09 L210.27,270.66 L211.71,270.22 L213.15,269.79 L214.59,269.35 L216.03,268.92 L217.47,268.48 L218.91,268.04 L220.36,267.60 L221.80,267.16 L223.24,266.71 L224.68,266.27 L226.12,265.82 L227.56,265.37 L229.00,264.92 L230.44,264.47 L231.88,264.01 L233.32,263.56 L234.76,263.10 L236.19,262.64 L237.63,262.17 L239.07,261.71 L240.51,261.24 L241.95,260.77 L243.38,260.30 L244.82,259.82 L246.25,259.34 L247.69,258.86 L249.12,258.38 L250.56,257.89 L251.99,257.40 L253.42,256.90 L254.85,256.40 L256.28,255.90 L257.70,255.40 L259.13,254.89 L260.55,254.37 L261.97,253.86 L263.39,253.33 L264.81,252.81 L266.23,252.28 L267.64,251.74 L269.05,251.20 L270.46,250.66 L271.87,250.10 L273.27,249.55 L274.67,248.99 L276.07,248.42 L277.47,247.85 L278.86,247.27 L280.25,246.69 L281.64,246.10 L283.02,245.51 L284.40,244.90 L285.78,244.30 L287.16,243.68 L288.53,243.06 L289.89,242.44 L291.26,241.80 L292.61,241.16 L293.97,240.51 L295.32,239.86 L296.67,239.20 L298.01,238.53 L299.35,237.85 L300.68,237.17 L302.01,236.47 L303.33,235.77 L304.65,235.07 L305.97,234.35 L307.28,233.62 L308.58,232.89 L309.88,232.15 L311.18,231.40 L312.47,230.64 L313.75,229.88 L315.03,229.10 L316.30,228.31 L317.57,227.52 L318.83,226.72 L320.08,225.90 L321.33,225.08 L322.58,224.25 L323.81,223.41 L325.04,222.55 L326.27,221.69 L327.49,220.82 L328.70,219.94 L329.90,219.05 L331.10,218.15 L332.30,217.24 L333.48,216.33 L334.67,215.40 L335.84,214.47 L337.01,213.53 L338.18,212.58 L339.34,211.62 L340.49,210.65 L341.64,209.68 L342.78,208.70 L343.91,207.71 L345.04,206.72 L346.17,205.71 L347.29,204.71 L348.40,203.69 L349.51,202.67 L350.62,201.64 L351.72,200.61 L352.81,199.57 L353.90,198.52 L354.98,197.47 L356.06,196.41 L357.13,195.35 L358.20,194.28 L359.27,193.21 L360.32,192.13 L361.38,191.05 L362.43,189.97 L363.47,188.88 L364.51,187.78 L365.55,186.68 L366.58,185.58 L367.60,184.47 L368.63,183.36 L369.65,182.25 L370.66,181.14 L371.68,180.02 L372.69,178.90 L373.70,177.78 L374.70,176.66 L375.71,175.54 L376.71,174.42 L377.72,173.30 L378.72,172.17 L379.73,171.05 L380.73,169.93 L381.73,168.81 L382.74,167.69 L383.75,166.58 L384.76,165.46 L385.77,164.35 L386.78,163.24 L387.79,162.13 L388.81,161.03 L389.83,159.93 L390.86,158.83 L391.89,157.74 L392.92,156.66 L393.96,155.57 L395.00,154.50 L396.05,153.43 L397.10,152.36 L398.16,151.30 L399.23,150.25 L400.30,149.20 L401.38,148.17 L402.47,147.14 L403.56,146.11 L404.66,145.10 L405.77,144.09 L406.89,143.09 L408.01,142.09 L409.14,141.10 L410.27,140.12 L411.41,139.14 L412.55,138.17 L413.70,137.20 L414.86,136.24 L416.01,135.28 L417.18,134.33 L418.34,133.38 L419.51,132.44 L420.68,131.49 L421.86,130.55 L423.04,129.62 L424.22,128.68 L425.40,127.75 L426.59,126.82 L427.77,125.89 L428.96,124.96 L430.15,124.03 L431.34,123.11 L432.53,122.18 L433.72,121.25 L434.91,120.32 L436.10,119.40 L437.28,118.47 L438.47,117.54 L439.66,116.61 L440.84,115.67 L442.02,114.74 L443.20,113.80 L444.38,112.86 L445.56,111.92 L446.73,110.97 L447.90,110.02 L449.07,109.07 L450.23,108.11 L451.40,107.16 L452.56,106.20 L453.72,105.24 L454.87,104.27 L456.03,103.30 L457.18,102.33 L458.33,101.36 L459.47,100.39 L460.62,99.41 L461.76,98.43 L462.90,97.44 L464.03,96.45 L465.16,95.47 L466.30,94.47 L467.42,93.48 L468.55,92.48 L469.67,91.48 L470.79,90.48 L471.91,89.47 L473.03,88.46 L474.14,87.45 L475.25,86.44 L476.36,85.42 L477.46,84.40 L478.56,83.38 L479.66,82.35 L480.76,81.32 L481.86,80.29 L482.95,79.26 L484.04,78.22 L485.12,77.18 L486.21,76.14 L487.29,75.10 L488.36,74.05 L489.44,73.00 L490.51,71.94 L491.58,70.89 L492.65,69.83 L493.71,68.77 L494.77,67.70 L495.83,66.63 L496.89,65.56 L497.94,64.49 L498.99,63.41 L500.04,62.33 L501.08,61.25 L502.12,60.17 L503.16,59.08 L504.20,57.99 L505.23,56.89 L506.26,55.80 L507.29,54.70 L508.31,53.59 L509.34,52.49 L510.35,51.38 L511.37,50.27 L512.38,49.16 L513.39,48.04 L514.40,46.92 L515.40,45.80 L516.40,44.67 L517.40,43.54 L518.40,42.41 L519.39,41.28 L520.38,40.14 L521.36,39.00 L522.35,37.85 L523.33,36.71 L524.30,35.56 L525.28,34.41 L526.25,33.25 L527.21,32.09 L528.18,30.93 L529.14,29.77 L530.10,28.60" stroke="#0000ff" stroke-width="1.5" fill="none" stroke-linejoin="round" stroke-linecap="round"/><path d="M530.10,28.60 L530.05,30.12 L530.00,31.64 L529.94,33.16 L529.87,34.67 L529.80,36.19 L529.72,37.70 L529.64,39.21 L529.55,40.73 L529.45,42.24 L529.35,43.74 L529.24,45.25 L529.12,46.76 L529.00,48.26 L528.87,49.76 L528.74,51.26 L528.60,52.77 L528.45,54.26 L528.29,55.76 L528.13,57.26 L527.97,58.75 L527.79,60.25 L527.62,61.74 L527.43,63.23 L527.24,64.72 L527.04,66.21 L526.83,67.70 L526.62,69.18 L526.41,70.67 L526.18,72.15 L525.95,73.63 L525.72,75.11 L525.47,76.59 L525.22,78.07 L524.97,79.55 L524.71,81.02 L524.44,82.50 L524.16,83.97 L523.88,85.45 L523.60,86.92 L523.30,88.39 L523.00,89.85 L522.69,91.32 L522.38,92.79 L522.06,94.25 L521.73,95.72 L521.40,97.18 L521.06,98.64 L520.72,100.10 L520.37,101.56 L520.01,103.02 L519.64,104.47 L519.27,105.93 L518.89,107.38 L518.51,108.83 L518.12,110.28 L517.72,111.74 L517.32,113.18 L516.91,114.63 L516.49,116.08 L516.07,117.52 L515.64,118.97 L515.20,120.41 L514.76,121.86 L514.31,123.30 L513.85,124.74 L513.39,126.17 L512.92,127.61 L512.45,129.05 L511.97,130.48 L511.48,131.92 L510.98,133.35 L510.48,134.78 L509.97,136.21 L509.46,137.64 L508.94,139.07 L508.41,140.50 L507.88,141.93 L507.33,143.35 L506.79,144.77 L506.23,146.19 L505.67,147.61 L505.10,149.03 L504.52,150.44 L503.93,151.85 L503.34,153.26 L502.74,154.66 L502.13,156.06 L501.51,157.46 L500.88,158.85 L500.24,160.23 L499.60,161.61 L498.94,162.99 L498.28,164.36 L497.61,165.72 L496.92,167.08 L496.23,168.43 L495.53,169.77 L494.81,171.11 L494.09,172.44 L493.35,173.76 L492.61,175.08 L491.85,176.39 L491.08,177.69 L490.31,178.98 L489.52,180.26 L488.71,181.53 L487.90,182.79 L487.07,184.05 L486.24,185.29 L485.39,186.52 L484.52,187.74 L483.65,188.96 L482.76,190.16 L481.86,191.35 L480.94,192.52 L480.02,193.69 L479.08,194.84 L478.12,195.99 L477.15,197.12 L476.17,198.23 L475.17,199.33 L474.16,200.42 L473.14,201.50 L472.10,202.56 L471.04,203.61 L469.97,204.65 L468.89,205.67 L467.80,206.68 L466.69,207.67 L465.57,208.66 L464.44,209.63 L463.30,210.59 L462.14,211.54 L460.98,212.47 L459.80,213.40 L458.61,214.31 L457.41,215.21 L456.21,216.10 L454.99,216.98 L453.76,217.85 L452.53,218.71 L451.28,219.55 L450.03,220.39 L448.77,221.22 L447.51,222.04 L446.23,222.85 L444.95,223.65 L443.66,224.44 L442.37,225.22 L441.07,225.99 L439.76,226.75 L438.45,227.51 L437.13,228.25 L435.81,228.99 L434.49,229.72 L433.16,230.45 L431.82,231.16 L430.49,231.87 L429.15,232.57 L427.80,233.27 L426.46,233.95 L425.11,234.63 L423.76,235.31 L422.41,235.98 L421.05,236.64 L419.69,237.29 L418.33,237.94 L416.96,238.58 L415.60,239.21 L414.23,239.84 L412.85,240.46 L411.48,241.07 L410.10,241.68 L408.72,242.29 L407.34,242.88 L405.95,243.47 L404.57,244.06 L403.18,244.64 L401.78,245.21 L400.39,245.78 L398.99,246.34 L397.60,246.89 L396.19,247.44 L394.79,247.99 L393.39,248.53 L391.98,249.06 L390.57,249.59 L389.16,250.11 L387.75,250.63 L386.33,251.14 L384.91,251.65 L383.50,252.16 L382.07,252.65 L380.65,253.15 L379.23,253.63 L377.80,254.12 L376.37,254.60 L374.94,255.07 L373.51,255.54 L372.08,256.01 L370.64,256.47 L369.21,256.92 L367.77,257.37 L366.33,257.82 L364.89,258.27 L363.45,258.70 L362.00,259.14 L360.56,259.57 L359.11,260.00 L357.66,260.42 L356.22,260.84 L354.77,261.26 L353.31,261.67 L351.86,262.08 L350.41,262.48 L348.95,262.88 L347.50,263.28 L346.04,263.67 L344.58,264.07 L343.12,264.45 L341.66,264.84 L340.20,265.22 L338.74,265.60 L337.27,265.97 L335.81,266.35 L334.34,266.72 L332.88,267.08 L331.41,267.45 L329.94,267.81 L328.48,268.17 L327.01,268.52 L325.54,268.88 L324.07,269.23 L322.60,269.57 L321.13,269.92 L319.66,270.27 L318.18,270.61 L316.71,270.95 L315.24,271.28 L313.77,271.62 L312.29,271.95 L310.82,272.28 L309.34,272.61 L307.87,272.94 L306.39,273.27 L304.92,273.59 L303.44,273.92 L301.97,274.24 L300.49,274.56 L299.02,274.88 L297.54,275.19 L296.07,275.51 L294.59,275.82 L293.11,276.14 L291.64,276.45 L290.16,276.76 L288.69,277.07 L287.21,277.38 L285.73,277.69 L284.26,277.99 L282.78,278.29 L281.30,278.60 L279.83,278.90 L278.35,279.20 L276.87,279.50 L275.40,279.80 L273.92,280.10 L272.44,280.39 L270.97,280.69 L269.49,280.98 L268.01,281.27 L266.53,281.56 L265.06,281.85 L263.58,282.14 L262.10,282.43 L260.62,282.72 L259.14,283.00 L257.67,283.29 L256.19,283.57 L254.71,283.86 L253.23,284.14 L251.75,284.42 L250.27,284.70 L248.79,284.98 L247.32,285.26 L245.84,285.53 L244.36,285.81 L242.88,286.08 L241.40,286.36 L239.92,286.63 L238.44,286.90 L236.96,287.18 L235.48,287.45 L234.00,287.72 L232.52,287.99 L231.04,288.25 L229.56,288.52 L228.08,288.79 L226.60,289.05 L225.12,289.32 L223.63,289.58 L222.15,289.85 L220.67,290.11 L219.19,290.37 L217.71,290.63 L216.23,290.90 L214.75,291.16 L213.26,291.41 L211.78,291.67 L210.30,291.93 L208.82,292.19 L207.33,292.45 L205.85,292.70 L204.37,292.96 L202.89,293.21 L201.40,293.47 L199.92,293.72 L198.44,293.97 L196.95,294.23 L195.47,294.48 L193.98,294.73 L192.50,294.98 L191.02,295.23 L189.53,295.48 L188.05,295.73 L186.56,295.98 L185.08,296.23 L183.59,296.48 L182.11,296.73 L180.62,296.98 L179.13,297.22 L177.65,297.47 L176.16,297.72 L174.68,297.96 L173.19,298.21 L171.70,298.46 L170.22,298.70 L168.73,298.95 L167.24,299.19 L165.75,299.44 L164.27,299.68 L162.78,299.92 L161.29,300.17 L159.80,300.41 L158.32,300.65 L156.83,300.90 L155.34,301.14 L153.85,301.38 L152.36,301.62 L150.87,301.87 L149.38,302.11 L147.89,302.35 L146.40,302.59 L144.91,302.83 L143.42,303.08 L141.93,303.32 L140.44,303.56 L138.95,303.80 L137.46,304.04 L135.97,304.28 L134.48,304.53 L132.98,304.77 L131.49,305.01 L130.00,305.25" stroke="#0000ff" stroke-width="1.5" fill="none" stroke-linejoin="round" stroke-linecap="round"/></g>
<path d="M53,12.5 H540 M53,305.5 H540" stroke="#000" stroke-width="1" fill="none"/><path d="M53,12 V306 M540,12 V306" stroke="#333" stroke-width="1.3" fill="none"/><path d="M47,305.5 H53" stroke="#000" stroke-width="1"/><path d="M47,247.5 H53" stroke="#000" stroke-width="1"/><path d="M47,188.5 H53" stroke="#000" stroke-width="1"/><path d="M47,129.5 H53" stroke="#000" stroke-width="1"/><path d="M47,71.5 H53" stroke="#000" stroke-width="1"/><path d="M47,12.5 H53" stroke="#000" stroke-width="1"/><path d="M52.9,305 V311" stroke="#000" stroke-width="1.2"/><path d="M148.4,305 V311" stroke="#000" stroke-width="1.2"/><path d="M243.8,305 V311" stroke="#000" stroke-width="1.2"/><path d="M339.3,305 V311" stroke="#000" stroke-width="1.2"/><path d="M434.7,305 V311" stroke="#000" stroke-width="1.2"/><path d="M530.2,305 V311" stroke="#000" stroke-width="1.2"/>
<g id="inset"><rect x="85.2" y="22.4" width="223.4" height="145.1" fill="#fff" stroke="#555" stroke-width="1.1"/><path d="M81.8,167.5 H85.2" stroke="#555" stroke-width="1"/><path d="M81.8,124.7 H85.2" stroke="#555" stroke-width="1"/><path d="M81.8,81.9 H85.2" stroke="#555" stroke-width="1"/><path d="M81.8,39.1 H85.2" stroke="#555" stroke-width="1"/><path d="M85.2,167.5 V171" stroke="#555" stroke-width="1"/><path d="M171.0,167.5 V171" stroke="#555" stroke-width="1"/><path d="M256.8,167.5 V171" stroke="#555" stroke-width="1"/>
<g><path d="M100.20,167.50 L101.14,166.29 L102.11,165.11 L103.10,163.96 L104.12,162.84 L105.15,161.74 L106.21,160.68 L107.29,159.64 L108.39,158.63 L109.51,157.64 L110.65,156.67 L111.80,155.72 L112.97,154.80 L114.16,153.89 L115.36,153.00 L116.57,152.13 L117.79,151.27 L119.03,150.43 L120.28,149.60 L121.53,148.79 L122.80,147.98 L124.07,147.19 L125.35,146.40 L126.63,145.62 L127.93,144.85 L129.22,144.08 L130.52,143.32 L131.83,142.56 L133.13,141.81 L134.45,141.07 L135.76,140.32 L137.08,139.59 L138.40,138.85 L139.72,138.12 L141.05,137.39 L142.38,136.66 L143.71,135.94 L145.04,135.21 L146.37,134.49 L147.70,133.76 L149.03,133.04 L150.36,132.32 L151.69,131.59 L153.02,130.86 L154.35,130.14 L155.68,129.41 L157.01,128.67 L158.34,127.94 L159.66,127.20 L160.98,126.46 L162.30,125.71 L163.61,124.96 L164.92,124.20 L166.23,123.44 L167.53,122.67 L168.83,121.90 L170.13,121.12 L171.42,120.33 L172.70,119.54 L173.98,118.74 L175.25,117.92 L176.52,117.10 L177.78,116.28 L179.03,115.44 L180.28,114.59 L181.52,113.73 L182.75,112.86 L183.97,111.98 L185.19,111.09 L186.40,110.19 L187.60,109.28 L188.79,108.36 L189.98,107.43 L191.17,106.49 L192.35,105.55 L193.52,104.60 L194.69,103.64 L195.85,102.68 L197.01,101.71 L198.16,100.73 L199.32,99.75 L200.46,98.76 L201.61,97.77 L202.75,96.78 L203.89,95.78 L205.03,94.78 L206.16,93.77 L207.30,92.77 L208.43,91.76 L209.56,90.75 L210.70,89.74 L211.83,88.73 L212.96,87.72 L214.09,86.71 L215.22,85.70 L216.36,84.70 L217.49,83.69 L218.63,82.69 L219.77,81.69 L220.91,80.69 L222.05,79.69 L223.20,78.70 L224.34,77.71 L225.50,76.73 L226.65,75.76 L227.81,74.78 L228.98,73.82 L230.15,72.86 L231.32,71.91 L232.50,70.96 L233.69,70.02 L234.88,69.09 L236.07,68.17 L237.27,67.25 L238.47,66.33 L239.68,65.43 L240.89,64.52 L242.10,63.63 L243.32,62.74 L244.54,61.85 L245.77,60.97 L247.00,60.09 L248.23,59.22 L249.46,58.35 L250.70,57.48 L251.94,56.62 L253.19,55.76 L254.43,54.91 L255.68,54.06 L256.93,53.21 L258.18,52.36 L259.44,51.52 L260.69,50.68 L261.95,49.84 L263.21,49.00 L264.47,48.17 L265.73,47.33 L266.99,46.50 L268.26,45.67 L269.52,44.84 L270.79,44.01 L272.05,43.18 L273.32,42.36 L274.58,41.53 L275.85,40.70 L277.11,39.87 L278.38,39.04 L279.64,38.21 L280.91,37.38 L282.17,36.55 L283.43,35.72 L284.69,34.89 L285.95,34.05 L287.21,33.21 L288.47,32.38 L289.73,31.53 L290.98,30.69 L292.23,29.84 L293.48,28.99 L294.73,28.14 L295.98,27.29 L297.22,26.43 L298.46,25.57 L299.70,24.70" stroke="#767676" stroke-width="1.0" fill="none" stroke-linejoin="round" stroke-linecap="round"/><path d="M213.90,105.80 L213.18,107.15 L212.42,108.46 L211.62,109.74 L210.79,110.99 L209.92,112.22 L209.01,113.41 L208.07,114.58 L207.10,115.72 L206.10,116.83 L205.07,117.92 L204.01,118.99 L202.92,120.03 L201.81,121.05 L200.67,122.05 L199.52,123.03 L198.34,123.98 L197.13,124.92 L195.91,125.84 L194.68,126.74 L193.42,127.63 L192.15,128.50 L190.87,129.35 L189.57,130.19 L188.27,131.02 L186.95,131.84 L185.62,132.64 L184.29,133.43 L182.95,134.22 L181.60,134.99 L180.25,135.75 L178.90,136.51 L177.55,137.26 L176.20,138.01 L174.84,138.75 L173.49,139.48 L172.13,140.21 L170.78,140.93 L169.42,141.65 L168.06,142.36 L166.70,143.07 L165.35,143.78 L163.99,144.48 L162.63,145.17 L161.27,145.86 L159.91,146.55 L158.54,147.24 L157.18,147.92 L155.82,148.60 L154.46,149.28 L153.09,149.96 L151.73,150.63 L150.36,151.30 L149.00,151.97 L147.63,152.64 L146.27,153.31 L144.90,153.98 L143.53,154.64 L142.17,155.31 L140.80,155.98 L139.43,156.64 L138.06,157.31 L136.69,157.97 L135.33,158.64 L133.96,159.31 L132.59,159.98 L131.22,160.65 L129.85,161.33 L128.47,162.00 L127.10,162.68 L125.73,163.36 L124.36,164.04 L122.99,164.73 L121.62,165.41 L120.24,166.11 L118.87,166.80 L117.50,167.50" stroke="#767676" stroke-width="1.0" fill="none" stroke-linejoin="round" stroke-linecap="round"/><path d="M213.90,79.70 L213.90,105.80" stroke="#767676" stroke-width="1.0" fill="none" stroke-linejoin="round" stroke-linecap="round"/><path d="M85.40,165.40 L86.51,164.35 L87.62,163.31 L88.74,162.27 L89.86,161.24 L90.99,160.22 L92.12,159.20 L93.25,158.19 L94.39,157.18 L95.54,156.18 L96.68,155.19 L97.84,154.20 L98.99,153.21 L100.15,152.23 L101.32,151.26 L102.49,150.29 L103.66,149.33 L104.84,148.38 L106.02,147.42 L107.20,146.48 L108.39,145.54 L109.59,144.60 L110.78,143.67 L111.98,142.74 L113.18,141.82 L114.39,140.90 L115.60,139.99 L116.81,139.08 L118.03,138.18 L119.25,137.28 L120.47,136.39 L121.70,135.49 L122.93,134.61 L124.16,133.73 L125.40,132.85 L126.64,131.97 L127.88,131.10 L129.12,130.24 L130.37,129.38 L131.62,128.52 L132.87,127.66 L134.12,126.81 L135.38,125.96 L136.64,125.12 L137.90,124.28 L139.17,123.44 L140.44,122.61 L141.70,121.77 L142.98,120.95 L144.25,120.12 L145.53,119.30 L146.80,118.48 L148.08,117.66 L149.37,116.85 L150.65,116.04 L151.93,115.23 L153.22,114.42 L154.51,113.62 L155.80,112.82 L157.09,112.02 L158.39,111.22 L159.68,110.43 L160.98,109.64 L162.28,108.85 L163.58,108.06 L164.88,107.27 L166.18,106.49 L167.48,105.71 L168.79,104.92 L170.09,104.15 L171.40,103.37 L172.71,102.59 L174.01,101.82 L175.32,101.04 L176.63,100.27 L177.94,99.50 L179.26,98.73 L180.57,97.96 L181.88,97.20 L183.19,96.43 L184.51,95.66 L185.82,94.90 L187.13,94.13 L188.45,93.37 L189.76,92.61 L191.08,91.85 L192.39,91.08 L193.71,90.32 L195.02,89.56 L196.34,88.80 L197.65,88.04 L198.97,87.28 L200.28,86.52 L201.59,85.76 L202.91,85.00 L204.22,84.24 L205.53,83.48 L206.85,82.71 L208.16,81.95 L209.47,81.19 L210.78,80.43 L212.09,79.66 L213.40,78.90" stroke="#767676" stroke-width="1.0" fill="none" stroke-linejoin="round" stroke-linecap="round"/><path d="M300.10,24.70 L300.10,69.70" stroke="#767676" stroke-width="1.0" fill="none" stroke-linejoin="round" stroke-linecap="round"/><path d="M300.10,69.70 L299.61,71.21 L299.08,72.70 L298.52,74.16 L297.94,75.60 L297.32,77.02 L296.68,78.42 L296.00,79.80 L295.30,81.15 L294.58,82.49 L293.82,83.80 L293.04,85.09 L292.24,86.36 L291.41,87.61 L290.56,88.85 L289.68,90.06 L288.78,91.25 L287.86,92.42 L286.92,93.58 L285.95,94.72 L284.97,95.83 L283.96,96.93 L282.94,98.01 L281.90,99.08 L280.84,100.12 L279.76,101.15 L278.67,102.17 L277.56,103.16 L276.43,104.14 L275.29,105.11 L274.14,106.06 L272.97,106.99 L271.78,107.91 L270.58,108.81 L269.37,109.70 L268.14,110.57 L266.90,111.43 L265.65,112.28 L264.39,113.12 L263.12,113.94 L261.84,114.75 L260.54,115.54 L259.24,116.33 L257.93,117.10 L256.60,117.86 L255.27,118.61 L253.94,119.35 L252.59,120.08 L251.24,120.80 L249.88,121.50 L248.51,122.20 L247.14,122.89 L245.76,123.57 L244.38,124.24 L242.99,124.91 L241.60,125.56 L240.20,126.21 L238.81,126.85 L237.40,127.48 L236.00,128.11 L234.60,128.72 L233.19,129.34 L231.78,129.94 L230.37,130.54 L228.96,131.14 L227.55,131.73 L226.14,132.31 L224.72,132.89 L223.31,133.46 L221.89,134.03 L220.48,134.59 L219.06,135.15 L217.64,135.70 L216.22,136.25 L214.80,136.80 L213.38,137.34 L211.96,137.88 L210.53,138.42 L209.11,138.95 L207.69,139.48 L206.26,140.00 L204.84,140.52 L203.41,141.04 L201.99,141.56 L200.56,142.08 L199.13,142.59 L197.70,143.10 L196.28,143.61 L194.85,144.12 L193.42,144.62 L191.99,145.13 L190.56,145.63 L189.14,146.13 L187.71,146.64 L186.28,147.14 L184.85,147.64 L183.42,148.14 L181.99,148.64 L180.56,149.14 L179.13,149.64 L177.71,150.15 L176.28,150.65 L174.85,151.15 L173.42,151.66 L171.99,152.16 L170.57,152.67 L169.14,153.18 L167.71,153.69 L166.29,154.20 L164.86,154.71 L163.44,155.23 L162.01,155.75 L160.59,156.27 L159.17,156.79 L157.74,157.32 L156.32,157.85 L154.90,158.38 L153.48,158.92 L152.06,159.46 L150.64,160.00 L149.23,160.55 L147.81,161.10 L146.39,161.66 L144.98,162.22 L143.57,162.79 L142.15,163.36 L140.74,163.93 L139.33,164.51 L137.92,165.10 L136.52,165.69 L135.11,166.29 L133.70,166.89 L132.30,167.50" stroke="#767676" stroke-width="1.0" fill="none" stroke-linejoin="round" stroke-linecap="round"/><path d="M103.80,167.50 L104.60,166.14 L105.44,164.83 L106.32,163.56 L107.24,162.33 L108.20,161.15 L109.19,160.01 L110.22,158.91 L111.28,157.86 L112.38,156.83 L113.51,155.85 L114.66,154.90 L115.85,153.99 L117.06,153.11 L118.29,152.26 L119.55,151.45 L120.83,150.66 L122.13,149.90 L123.45,149.15 L124.78,148.43 L126.12,147.72 L127.47,147.03 L128.84,146.35 L130.20,145.67 L131.57,145.00 L132.94,144.32 L134.31,143.65 L135.68,142.97 L137.04,142.28 L138.39,141.58 L139.73,140.87 L141.07,140.14 L142.39,139.40 L143.70,138.65 L145.01,137.88 L146.31,137.11 L147.59,136.32 L148.87,135.51 L150.14,134.70 L151.41,133.88 L152.66,133.04 L153.91,132.20 L155.15,131.35 L156.39,130.48 L157.62,129.61 L158.84,128.73 L160.06,127.84 L161.27,126.94 L162.47,126.04 L163.67,125.13 L164.87,124.21 L166.06,123.28 L167.25,122.35 L168.43,121.41 L169.61,120.47 L170.78,119.52 L171.95,118.57 L173.12,117.62 L174.29,116.65 L175.45,115.69 L176.61,114.72 L177.77,113.75 L178.93,112.78 L180.09,111.81 L181.24,110.83 L182.39,109.85 L183.55,108.87 L184.70,107.89 L185.85,106.91 L187.01,105.93 L188.16,104.96 L189.31,103.98 L190.47,103.00 L191.62,102.02 L192.78,101.05 L193.94,100.08 L195.10,99.11 L196.26,98.14 L197.43,97.18 L198.59,96.21 L199.76,95.25 L200.93,94.30 L202.10,93.34 L203.28,92.39 L204.45,91.43 L205.63,90.49 L206.80,89.54 L207.98,88.59 L209.17,87.65 L210.35,86.71 L211.53,85.77 L212.72,84.84 L213.91,83.90 L215.10,82.97 L216.29,82.04 L217.48,81.12 L218.68,80.19 L219.87,79.27 L221.07,78.35 L222.27,77.43 L223.47,76.51 L224.67,75.60 L225.88,74.69 L227.08,73.78 L228.29,72.87 L229.50,71.97 L230.71,71.07 L231.92,70.17 L233.14,69.27 L234.35,68.37 L235.57,67.48 L236.79,66.58 L238.01,65.70 L239.23,64.81 L240.46,63.92 L241.68,63.04 L242.91,62.16 L244.14,61.28 L245.37,60.40 L246.60,59.53 L247.83,58.66 L249.07,57.79 L250.30,56.92 L251.54,56.05 L252.78,55.19 L254.02,54.33 L255.26,53.47 L256.51,52.61 L257.75,51.75 L259.00,50.90 L260.25,50.05 L261.50,49.20 L262.75,48.35 L264.00,47.51 L265.26,46.67 L266.51,45.82 L267.77,44.99 L269.03,44.15 L270.29,43.32 L271.56,42.48 L272.82,41.65 L274.08,40.83 L275.35,40.00 L276.62,39.18 L277.89,38.35 L279.16,37.53 L280.43,36.72 L281.71,35.90 L282.98,35.09 L284.26,34.28 L285.54,33.47 L286.82,32.66 L288.10,31.86 L289.38,31.05 L290.67,30.25 L291.95,29.45 L293.24,28.66 L294.53,27.86 L295.82,27.07 L297.11,26.28 L298.41,25.49 L299.70,24.70" stroke="#00b050" stroke-width="1.1" fill="none" stroke-linejoin="round" stroke-linecap="round"/><path d="M299.70,24.70 L299.48,26.17 L299.22,27.63 L298.93,29.09 L298.61,30.54 L298.26,31.98 L297.88,33.42 L297.47,34.86 L297.04,36.29 L296.59,37.72 L296.12,39.14 L295.62,40.56 L295.11,41.98 L294.58,43.39 L294.04,44.80 L293.49,46.21 L292.92,47.62 L292.34,49.02 L291.74,50.42 L291.13,51.82 L290.51,53.21 L289.88,54.60 L289.23,55.98 L288.57,57.35 L287.89,58.72 L287.20,60.09 L286.50,61.44 L285.78,62.79 L285.05,64.14 L284.31,65.47 L283.55,66.79 L282.77,68.11 L281.99,69.42 L281.19,70.71 L280.37,72.00 L279.54,73.28 L278.69,74.54 L277.83,75.80 L276.96,77.04 L276.07,78.27 L275.16,79.48 L274.24,80.69 L273.31,81.88 L272.36,83.05 L271.40,84.22 L270.42,85.37 L269.42,86.50 L268.42,87.63 L267.40,88.73 L266.36,89.83 L265.32,90.91 L264.26,91.99 L263.18,93.04 L262.10,94.09 L261.00,95.12 L259.89,96.14 L258.77,97.15 L257.64,98.15 L256.50,99.13 L255.35,100.11 L254.19,101.07 L253.01,102.02 L251.83,102.95 L250.64,103.88 L249.44,104.80 L248.23,105.70 L247.01,106.59 L245.78,107.48 L244.55,108.35 L243.31,109.21 L242.06,110.06 L240.80,110.90 L239.53,111.73 L238.26,112.55 L236.99,113.36 L235.70,114.17 L234.41,114.96 L233.12,115.74 L231.82,116.51 L230.51,117.27 L229.20,118.03 L227.88,118.77 L226.56,119.51 L225.24,120.23 L223.91,120.95 L222.58,121.66 L221.24,122.37 L219.90,123.06 L218.56,123.75 L217.21,124.43 L215.86,125.10 L214.50,125.77 L213.14,126.43 L211.78,127.08 L210.42,127.73 L209.05,128.37 L207.68,129.01 L206.30,129.64 L204.93,130.26 L203.55,130.88 L202.16,131.50 L200.78,132.11 L199.39,132.71 L198.00,133.31 L196.61,133.91 L195.22,134.50 L193.82,135.09 L192.43,135.68 L191.03,136.26 L189.63,136.84 L188.23,137.42 L186.83,137.99 L185.42,138.56 L184.02,139.14 L182.61,139.70 L181.20,140.27 L179.80,140.84 L178.39,141.40 L176.98,141.96 L175.57,142.52 L174.16,143.09 L172.75,143.65 L171.34,144.21 L169.93,144.77 L168.52,145.33 L167.11,145.89 L165.70,146.45 L164.30,147.02 L162.89,147.58 L161.48,148.15 L160.07,148.71 L158.67,149.28 L157.26,149.85 L155.86,150.42 L154.46,151.00 L153.06,151.58 L151.66,152.16 L150.26,152.74 L148.86,153.33 L147.47,153.92 L146.08,154.51 L144.69,155.11 L143.30,155.71 L141.91,156.32 L140.53,156.93 L139.15,157.55 L137.77,158.17 L136.39,158.79 L135.02,159.43 L133.65,160.06 L132.28,160.70 L130.92,161.35 L129.56,162.01 L128.20,162.67 L126.85,163.34 L125.50,164.01 L124.15,164.70 L122.81,165.39 L121.47,166.08 L120.13,166.79 L118.80,167.50" stroke="#00b050" stroke-width="1.1" fill="none" stroke-linejoin="round" stroke-linecap="round"/><path d="M85.60,166.20 L86.71,165.15 L87.82,164.11 L88.94,163.07 L90.06,162.04 L91.19,161.02 L92.32,160.00 L93.45,158.99 L94.59,157.98 L95.74,156.98 L96.88,155.99 L98.04,155.00 L99.19,154.01 L100.35,153.03 L101.52,152.06 L102.69,151.09 L103.86,150.13 L105.04,149.18 L106.22,148.22 L107.40,147.28 L108.59,146.34 L109.79,145.40 L110.98,144.47 L112.18,143.54 L113.38,142.62 L114.59,141.70 L115.80,140.79 L117.01,139.88 L118.23,138.98 L119.45,138.08 L120.67,137.19 L121.90,136.29 L123.13,135.41 L124.36,134.53 L125.60,133.65 L126.84,132.77 L128.08,131.90 L129.32,131.04 L130.57,130.18 L131.82,129.32 L133.07,128.46 L134.32,127.61 L135.58,126.76 L136.84,125.92 L138.10,125.08 L139.37,124.24 L140.64,123.41 L141.90,122.57 L143.18,121.75 L144.45,120.92 L145.73,120.10 L147.00,119.28 L148.28,118.46 L149.57,117.65 L150.85,116.84 L152.13,116.03 L153.42,115.22 L154.71,114.42 L156.00,113.62 L157.29,112.82 L158.59,112.02 L159.88,111.23 L161.18,110.44 L162.48,109.65 L163.78,108.86 L165.08,108.07 L166.38,107.29 L167.68,106.51 L168.99,105.72 L170.29,104.95 L171.60,104.17 L172.91,103.39 L174.21,102.62 L175.52,101.84 L176.83,101.07 L178.14,100.30 L179.46,99.53 L180.77,98.76 L182.08,98.00 L183.39,97.23 L184.71,96.46 L186.02,95.70 L187.33,94.93 L188.65,94.17 L189.96,93.41 L191.28,92.65 L192.59,91.88 L193.91,91.12 L195.22,90.36 L196.54,89.60 L197.85,88.84 L199.17,88.08 L200.48,87.32 L201.79,86.56 L203.11,85.80 L204.42,85.04 L205.73,84.28 L207.05,83.51 L208.36,82.75 L209.67,81.99 L210.98,81.23 L212.29,80.46 L213.60,79.70" stroke="#ff0000" stroke-width="1.1" fill="none" stroke-linejoin="round" stroke-linecap="round"/><path d="M213.60,79.70 L213.55,81.25 L213.37,82.75 L213.07,84.22 L212.65,85.65 L212.14,87.05 L211.54,88.41 L210.86,89.75 L210.12,91.06 L209.33,92.35 L208.49,93.61 L207.63,94.86 L206.75,96.09 L205.83,97.30 L204.90,98.50 L203.94,99.68 L202.96,100.84 L201.97,102.00 L200.95,103.14 L199.93,104.27 L198.89,105.38 L197.83,106.49 L196.77,107.59 L195.70,108.68 L194.62,109.76 L193.53,110.83 L192.45,111.90 L191.35,112.96 L190.25,114.01 L189.15,115.05 L188.03,116.09 L186.92,117.12 L185.79,118.14 L184.66,119.15 L183.52,120.15 L182.38,121.14 L181.23,122.13 L180.07,123.10 L178.91,124.06 L177.73,125.01 L176.55,125.95 L175.36,126.88 L174.17,127.80 L172.96,128.71 L171.75,129.60 L170.53,130.49 L169.30,131.36 L168.05,132.22 L166.80,133.06 L165.55,133.89 L164.28,134.71 L163.00,135.51 L161.71,136.31 L160.41,137.08 L159.10,137.84 L157.78,138.59 L156.45,139.33 L155.11,140.05 L153.77,140.76 L152.42,141.47 L151.07,142.17 L149.71,142.86 L148.35,143.55 L146.99,144.24 L145.63,144.92 L144.26,145.60 L142.90,146.28 L141.54,146.97 L140.19,147.66 L138.83,148.35 L137.48,149.05 L136.14,149.75 L134.80,150.46 L133.46,151.16 L132.12,151.87 L130.78,152.58 L129.44,153.29 L128.11,154.00 L126.77,154.70 L125.43,155.41 L124.10,156.11 L122.76,156.81 L121.41,157.50 L120.07,158.19 L118.72,158.87 L117.37,159.55 L116.02,160.22 L114.66,160.89 L113.31,161.58 L111.98,162.28 L110.66,163.01 L109.37,163.79 L108.12,164.61 L106.90,165.50 L105.72,166.46 L104.60,167.50" stroke="#ff0000" stroke-width="1.1" fill="none" stroke-linejoin="round" stroke-linecap="round"/><path d="M222.00,79.80 L223.16,78.78 L224.33,77.77 L225.50,76.77 L226.67,75.78 L227.86,74.79 L229.04,73.82 L230.24,72.85 L231.44,71.88 L232.64,70.92 L233.85,69.97 L235.06,69.03 L236.28,68.09 L237.50,67.16 L238.72,66.23 L239.95,65.31 L241.19,64.40 L242.43,63.48 L243.67,62.58 L244.91,61.68 L246.16,60.78 L247.41,59.89 L248.66,59.00 L249.92,58.12 L251.18,57.24 L252.44,56.37 L253.71,55.49 L254.98,54.62 L256.25,53.76 L257.52,52.89 L258.79,52.03 L260.07,51.17 L261.34,50.32 L262.62,49.46 L263.90,48.61 L265.18,47.76 L266.47,46.91 L267.75,46.07 L269.03,45.22 L270.32,44.37 L271.60,43.53 L272.89,42.68 L274.17,41.84 L275.46,40.99 L276.74,40.15 L278.03,39.30 L279.31,38.46 L280.60,37.61 L281.88,36.77 L283.16,35.92 L284.45,35.07 L285.73,34.22 L287.01,33.36 L288.28,32.51 L289.56,31.65 L290.83,30.79 L292.11,29.93 L293.38,29.07 L294.65,28.20 L295.91,27.33 L297.18,26.46 L298.44,25.58 L299.70,24.70" stroke="#767676" stroke-width="1.0" fill="none" stroke-linejoin="round" stroke-linecap="round"/></g>
<text transform="translate(75.4,171.30) scale(1,1.03)" font-size="11.6" text-anchor="end" font-family="Liberation Sans, Arial, sans-serif">0</text><text transform="translate(75.4,128.50) scale(1,1.03)" font-size="11.6" text-anchor="end" font-family="Liberation Sans, Arial, sans-serif">0.5</text><text transform="translate(75.4,85.70) scale(1,1.03)" font-size="11.6" text-anchor="end" font-family="Liberation Sans, Arial, sans-serif">1</text><text transform="translate(75.4,42.90) scale(1,1.03)" font-size="11.6" text-anchor="end" font-family="Liberation Sans, Arial, sans-serif">1.5</text><text transform="translate(85.20,185.2) scale(1,1.03)" font-size="11.6" text-anchor="middle" font-family="Liberation Sans, Arial, sans-serif">0</text><text transform="translate(171.00,185.2) scale(1,1.03)" font-size="11.6" text-anchor="middle" font-family="Liberation Sans, Arial, sans-serif">0.1</text><text transform="translate(256.80,185.2) scale(1,1.03)" font-size="11.6" text-anchor="middle" font-family="Liberation Sans, Arial, sans-serif">0.2</text></g>
<g id="legend"><rect x="327.8" y="17.5" width="97.7" height="109.8" fill="#fff" stroke="#222" stroke-width="1"/><path d="M331.5,27.9 H347.5" stroke="#767676" stroke-width="1.3"/><text transform="translate(348.5,33.50) scale(1,1.03)" font-size="16" font-family="Liberation Sans, Arial, sans-serif">C3, TPV</text><path d="M331.5,50.0 H347.5" stroke="#ff0000" stroke-width="1.3"/><text transform="translate(348.5,55.60) scale(1,1.03)" font-size="16" font-family="Liberation Sans, Arial, sans-serif">C2-1, TPV</text><path d="M331.5,72.1 H347.5" stroke="#00b050" stroke-width="1.3"/><text transform="translate(348.5,77.70) scale(1,1.03)" font-size="16" font-family="Liberation Sans, Arial, sans-serif">C2-2, TPV</text><path d="M331.5,94.2 H347.5" stroke="#000000" stroke-width="1.3"/><text transform="translate(348.5,99.80) scale(1,1.03)" font-size="16" font-family="Liberation Sans, Arial, sans-serif">C2-3, TPV</text><path d="M331.5,116.3 H347.5" stroke="#0000ff" stroke-width="1.3"/><text transform="translate(348.5,121.90) scale(1,1.03)" font-size="16" font-family="Liberation Sans, Arial, sans-serif">C2-4, TPV</text></g>
<text transform="translate(36.6,311.65) scale(1,1.05)" font-size="19" text-anchor="end" font-family="Liberation Sans, Arial, sans-serif">0</text><text transform="translate(36.6,253.05) scale(1,1.05)" font-size="19" text-anchor="end" font-family="Liberation Sans, Arial, sans-serif">1</text><text transform="translate(36.6,194.45) scale(1,1.05)" font-size="19" text-anchor="end" font-family="Liberation Sans, Arial, sans-serif">2</text><text transform="translate(36.6,135.85) scale(1,1.05)" font-size="19" text-anchor="end" font-family="Liberation Sans, Arial, sans-serif">3</text><text transform="translate(36.6,77.25) scale(1,1.05)" font-size="19" text-anchor="end" font-family="Liberation Sans, Arial, sans-serif">4</text><text transform="translate(36.6,18.65) scale(1,1.05)" font-size="19" text-anchor="end" font-family="Liberation Sans, Arial, sans-serif">5</text><text transform="translate(52.90,334.1) scale(1,1.05)" font-size="19" text-anchor="middle" font-family="Liberation Sans, Arial, sans-serif">0</text><text transform="translate(148.36,334.1) scale(1,1.05)" font-size="19" text-anchor="middle" font-family="Liberation Sans, Arial, sans-serif">0.1</text><text transform="translate(243.82,334.1) scale(1,1.05)" font-size="19" text-anchor="middle" font-family="Liberation Sans, Arial, sans-serif">0.2</text><text transform="translate(339.28,334.1) scale(1,1.05)" font-size="19" text-anchor="middle" font-family="Liberation Sans, Arial, sans-serif">0.3</text><text transform="translate(434.74,334.1) scale(1,1.05)" font-size="19" text-anchor="middle" font-family="Liberation Sans, Arial, sans-serif">0.4</text><text transform="translate(530.20,334.1) scale(1,1.05)" font-size="19" text-anchor="middle" font-family="Liberation Sans, Arial, sans-serif">0.5</text><text transform="translate(296.7,357.5) scale(1,1.06)" font-size="19" font-weight="bold" text-anchor="middle" font-family="Liberation Sans, Arial, sans-serif">Strain</text><text transform="translate(19.6,159.2) rotate(-90) scale(0.978,1.06)" x="0" y="0" font-size="19" font-weight="bold" text-anchor="middle" font-family="Liberation Sans, Arial, sans-serif">Stress / MPa</text>
</svg>
</body></html>
